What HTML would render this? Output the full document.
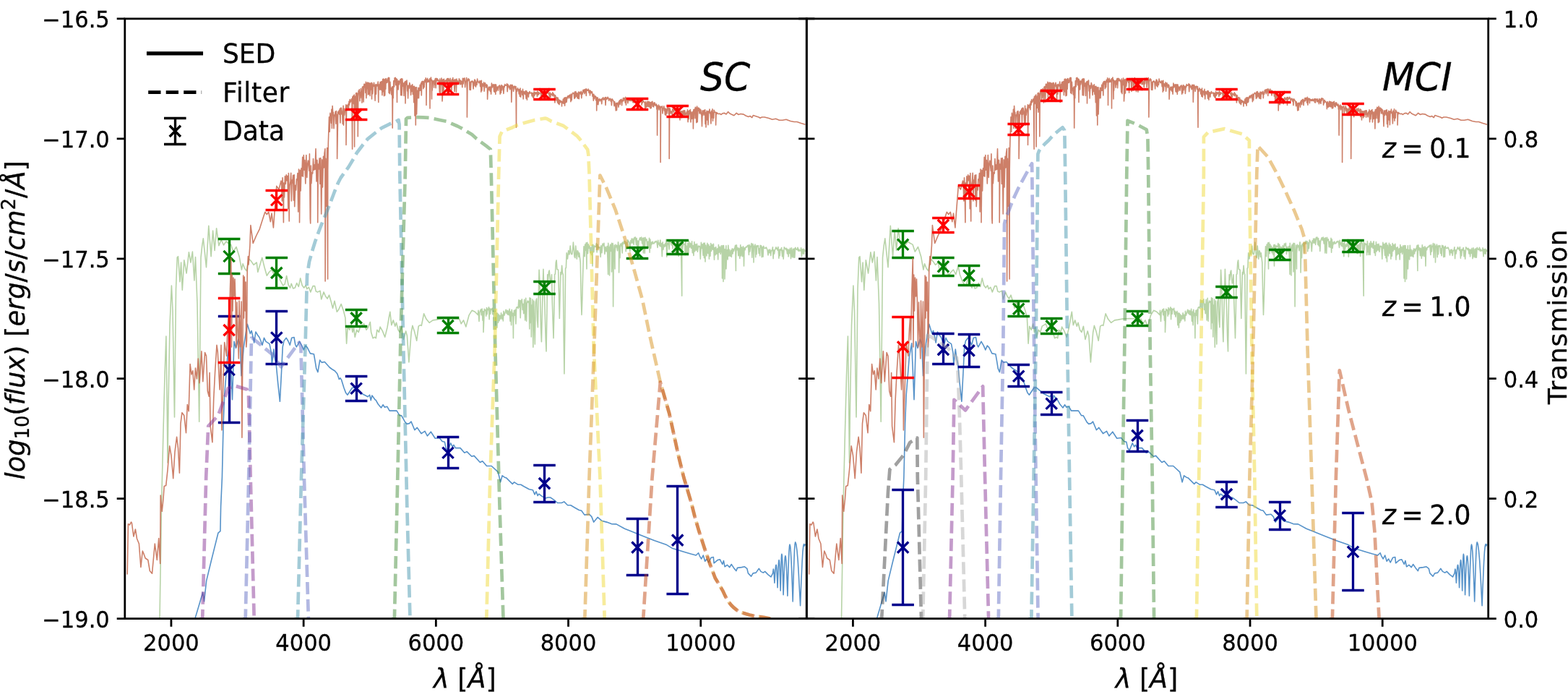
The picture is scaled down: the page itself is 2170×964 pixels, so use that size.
<!DOCTYPE html>
<html lang="en"><head><meta charset="utf-8"><title>SED and filter transmission: SC and MCI</title>
<style>html,body{margin:0;padding:0;background:#fff;overflow:hidden}svg{display:block}text{stroke:#000;stroke-width:0.3px;stroke-linejoin:round}</style></head>
<body><svg width="2170" height="964" viewBox="0 0 2170 964" font-family='"DejaVu Sans","Liberation Sans",sans-serif' style="font-variant-ligatures:none">
<rect width="2170" height="964" fill="#fff"/>
<defs><clipPath id="c0"><rect x="172.8" y="25.9" width="943.5" height="829.7"/></clipPath><clipPath id="c1"><rect x="1116.3" y="25.9" width="943.3999999999999" height="829.7"/></clipPath></defs>
<g clip-path="url(#c0)">
<path d="M269.5 857.0 L280.7 819.3 L282.5 831.8 L285.7 803.1 L292.0 777.0 L301.9 737.2 L304.9 734.7 L305.6 700.0 L307.4 660.0 L309.1 586.0 L310.7 546.2 L314.9 493.1 L318.2 474.8 L321.5 552.8 L324.0 472.3 L326.5 481.5 L329.8 469.0 L332.3 476.5 L334.0 519.6 L337.3 479.8 L339.8 463.2 L342.3 448.3 L344.8 456.6 L346.4 461.5 L348.1 457.4 L350.6 468.2 L351.7 474.0 L353.9 459.0 L356.4 463.2 L358.9 466.5 L362.2 474.8 L363.0 477.3 L365.5 467.3 L368.0 472.3 L373.0 475.6 L375.5 488.1 L376.3 504.7 L378.8 483.1 L380.5 496.4 L382.1 503.0 L384.6 529.6 L387.4 555.3 L389.6 513.0 L391.2 479.8 L392.9 471.5 L396.2 467.3 L398.7 471.5 L401.2 477.3 L403.7 467.3 L407.0 466.5 L408.7 476.5 L410.3 479.8 L414.5 472.3 L417.8 478.1 L420.3 483.9 L422.8 478.1 L425.3 480.6 L429.4 488.9 L434.4 489.8 L436.1 499.7 L437.7 509.7 L439.9 514.6 L442.7 498.0 L445.2 501.4 L449.3 500.5 L456.0 508.0 L459.3 510.5 L463.4 513.0 L466.8 517.1 L469.3 524.6 L470.9 522.9 L472.6 525.4 L475.9 536.2 L478.4 542.9 L480.9 546.2 L484.2 541.2 L487.5 536.2 L490.8 536.2 L495.8 540.4 L500.8 544.5 L505.8 547.0 L509.1 548.7 L511.6 546.2 L513.2 553.7 L514.9 547.0 L519.0 552.8 L520.0 553.2 L523.3 559.0 L527.5 564.0 L530.0 559.8 L532.4 563.2 L535.8 562.3 L539.1 568.1 L544.9 568.1 L549.0 568.1 L553.2 574.8 L555.7 574.8 L560.7 583.9 L563.2 586.4 L566.5 585.6 L569.0 583.1 L573.9 594.7 L577.3 591.4 L583.1 599.7 L588.0 596.3 L591.4 603.0 L596.3 597.2 L602.2 606.3 L608.0 605.5 L612.1 610.5 L615.4 611.3 L617.1 619.6 L619.6 622.9 L623.7 612.9 L626.2 617.9 L627.9 615.4 L630.4 619.6 L637.0 619.6 L642.8 626.2 L646.1 624.6 L652.8 631.2 L656.1 630.4 L664.4 639.5 L667.7 637.8 L673.5 644.5 L680.2 644.5 L689.3 652.8 L692.6 666.9 L695.1 657.8 L698.4 660.2 L700.9 661.1 L709.2 669.4 L711.7 666.9 L716.7 670.2 L720.8 670.2 L725.0 672.7 L732.4 676.8 L737.4 677.7 L740.0 683.9 L742.0 679.8 L744.1 685.6 L745.8 683.1 L750.0 686.4 L754.9 688.9 L758.3 688.0 L761.6 688.0 L766.6 691.4 L771.5 695.5 L777.3 695.5 L780.7 693.9 L785.6 698.8 L789.8 698.8 L795.6 702.2 L801.4 705.5 L804.7 706.3 L808.9 712.1 L815.5 711.3 L818.8 714.6 L821.7 722.1 L827.1 715.4 L832.9 720.4 L839.6 722.1 L846.2 724.6 L852.9 724.9 L864.5 731.2 L872.8 734.5 L889.4 741.2 L906.0 747.8 L922.6 753.6 L930.9 758.6 L939.2 761.1 L955.8 766.1 L963.2 768.0 L966.6 764.7 L968.2 768.8 L970.7 773.0 L973.2 768.0 L975.7 776.3 L978.2 773.0 L980.7 778.0 L984.0 771.3 L987.3 770.5 L988.1 778.8 L993.1 774.6 L996.4 773.8 L999.8 780.5 L1001.4 775.5 L1003.1 783.8 L1006.4 781.3 L1009.7 784.6 L1012.2 780.5 L1015.5 785.4 L1018.8 789.6 L1020.5 785.4 L1026.3 784.6 L1030.5 783.8 L1033.8 786.3 L1035.4 792.9 L1039.6 797.1 L1042.1 792.9 L1046.2 792.1 L1050.4 786.3 L1052.9 790.4 L1056.2 792.1 L1058.7 790.4 L1062.8 794.6 L1067.0 797.9 L1069.5 792.9 L1070.3 787.1 L1070.6 787.8 L1070.8 789.7 L1071.1 792.7 L1071.4 796.6 L1071.6 801.3 L1071.9 806.2 L1072.3 799.8 L1072.6 793.8 L1073.0 788.6 L1073.4 784.6 L1073.7 782.1 L1074.1 781.3 L1074.4 782.4 L1074.8 785.5 L1075.1 790.5 L1075.4 797.0 L1075.8 804.6 L1076.1 812.8 L1076.4 802.9 L1076.8 793.7 L1077.1 785.8 L1077.4 779.7 L1077.8 775.9 L1078.1 774.6 L1078.4 776.0 L1078.8 780.3 L1079.2 787.0 L1079.5 795.8 L1079.8 806.0 L1080.2 817.0 L1080.5 803.9 L1080.8 791.6 L1081.1 781.1 L1081.3 773.1 L1081.6 768.0 L1081.9 766.3 L1082.3 768.2 L1082.6 773.9 L1083.0 782.8 L1083.4 794.5 L1083.7 808.2 L1084.1 822.8 L1084.6 808.8 L1085.0 795.8 L1085.5 784.6 L1086.0 776.0 L1086.4 770.6 L1086.9 768.8 L1087.4 770.7 L1087.9 776.2 L1088.4 785.0 L1088.9 796.4 L1089.4 809.8 L1089.9 824.1 L1090.4 805.7 L1090.9 788.6 L1091.5 773.9 L1092.0 762.6 L1092.5 755.5 L1093.0 753.1 L1093.7 755.8 L1094.4 763.7 L1095.1 776.2 L1095.8 792.5 L1096.5 811.5 L1097.2 831.9 L1097.8 810.7 L1098.4 790.9 L1099.0 773.8 L1099.5 760.8 L1100.1 752.6 L1100.7 749.8 L1101.8 752.8 L1103.0 761.6 L1104.2 775.5 L1105.3 793.8 L1106.4 814.9 L1107.6 837.7 L1108.4 815.6 L1109.3 795.0 L1110.1 777.2 L1110.9 763.7 L1111.8 755.1 L1112.6 752.5 L1113.3 755.0 L1114.5 752.5" fill="none" stroke="#3f83c2" stroke-opacity="0.88" stroke-width="1.6" stroke-linejoin="round"/>
<path d="M309.46 503.86l15.28 15.28M309.46 519.14l15.28 -15.28" stroke="#00008b" stroke-width="3.33" fill="none"/>
<path d="M301.82 437.5h30.56M301.82 584.5h30.56" stroke="#00008b" stroke-width="3.33" fill="none"/>
<path d="M317.5 437.9V584.5" stroke="#00008b" stroke-width="3.33" fill="none"/>
<path d="M375.16 459.36l15.28 15.28M375.16 474.64l15.28 -15.28" stroke="#00008b" stroke-width="3.33" fill="none"/>
<path d="M367.52 430.5h30.56M367.52 503.5h30.56" stroke="#00008b" stroke-width="3.33" fill="none"/>
<path d="M382.5 430.4V503.6" stroke="#00008b" stroke-width="3.33" fill="none"/>
<path d="M485.46 529.56l15.28 15.28M485.46 544.84l15.28 -15.28" stroke="#00008b" stroke-width="3.33" fill="none"/>
<path d="M477.82 520.5h30.56M477.82 554.5h30.56" stroke="#00008b" stroke-width="3.33" fill="none"/>
<path d="M493.5 520.2V554.1" stroke="#00008b" stroke-width="3.33" fill="none"/>
<path d="M612.36 618.66l15.28 15.28M612.36 633.94l15.28 -15.28" stroke="#00008b" stroke-width="3.33" fill="none"/>
<path d="M604.72 604.5h30.56M604.72 647.5h30.56" stroke="#00008b" stroke-width="3.33" fill="none"/>
<path d="M620.5 604.4V647.2" stroke="#00008b" stroke-width="3.33" fill="none"/>
<path d="M745.86 660.96l15.28 15.28M745.86 676.24l15.28 -15.28" stroke="#00008b" stroke-width="3.33" fill="none"/>
<path d="M738.22 643.5h30.56M738.22 694.5h30.56" stroke="#00008b" stroke-width="3.33" fill="none"/>
<path d="M753.5 643.5V694.0" stroke="#00008b" stroke-width="3.33" fill="none"/>
<path d="M874.36 749.46l15.28 15.28M874.36 764.74l15.28 -15.28" stroke="#00008b" stroke-width="3.33" fill="none"/>
<path d="M866.72 717.5h30.56M866.72 795.5h30.56" stroke="#00008b" stroke-width="3.33" fill="none"/>
<path d="M882.5 717.8V795.7" stroke="#00008b" stroke-width="3.33" fill="none"/>
<path d="M930.06 739.46l15.28 15.28M930.06 754.74l15.28 -15.28" stroke="#00008b" stroke-width="3.33" fill="none"/>
<path d="M922.42 672.5h30.56M922.42 821.5h30.56" stroke="#00008b" stroke-width="3.33" fill="none"/>
<path d="M937.5 672.4V821.0" stroke="#00008b" stroke-width="3.33" fill="none"/>
<path d="M221.0 857.0 L222.2 780.0 L223.5 700.0 L225.9 600.0 L228.0 520.0 L229.9 465.0 L231.2 560.0 L232.0 640.0 L233.0 560.0 L235.0 450.0 L237.4 395.0 L239.0 430.0 L241.5 577.0 L243.5 400.0 L245.2 356.0 L246.5 354.7 L249.0 389.6 L250.6 363.0 L252.3 401.2 L254.8 359.7 L258.1 378.0 L261.4 348.9 L263.9 363.0 L266.4 348.1 L268.9 387.9 L270.5 355.6 L273.0 420.0 L275.7 583.2 L278.0 356.4 L279.7 339.8 L281.3 329.8 L285.5 369.7 L288.8 312.4 L292.1 354.7 L294.6 319.0 L297.1 346.4 L299.6 315.7 L302.9 339.8 L306.2 331.5 L309.5 339.0 L312.9 334.0 L316.2 336.5 L319.5 338.1 L322.8 348.1 L327.0 341.5 L331.1 354.7 L334.4 373.0 L336.1 364.7 L338.6 371.3 L341.1 374.6 L344.4 358.0 L347.7 361.4 L351.0 366.3 L355.2 363.0 L356.8 376.3 L359.3 368.0 L362.7 356.4 L366.0 369.7 L369.3 381.3 L372.6 376.3 L375.9 373.0 L379.3 379.6 L382.6 368.0 L385.0 380.0 L388.0 388.0 L391.6 394.8 L394.1 393.2 L396.6 381.5 L399.1 394.0 L401.6 398.1 L403.2 392.3 L405.7 399.0 L408.2 398.1 L410.7 391.5 L413.2 396.5 L415.7 384.9 L418.2 394.8 L420.7 398.1 L423.2 394.8 L424.8 399.8 L427.3 397.3 L429.8 403.9 L433.1 395.6 L435.6 395.6 L437.3 403.1 L439.8 403.9 L443.1 402.3 L444.7 413.9 L448.0 403.9 L450.5 409.8 L453.0 413.1 L455.5 408.1 L458.0 416.4 L460.5 426.3 L463.0 416.4 L466.3 431.3 L468.8 428.0 L472.1 420.5 L475.4 429.7 L477.9 439.6 L479.6 475.3 L481.2 451.2 L483.7 456.2 L486.2 447.9 L487.9 459.5 L489.5 452.9 L491.2 466.2 L493.7 456.2 L496.2 459.5 L498.7 451.2 L501.2 449.6 L503.7 447.9 L507.0 456.2 L509.5 452.9 L512.3 445.4 L513.6 459.5 L516.1 467.8 L518.6 466.2 L520.2 467.8 L521.9 456.2 L524.4 459.5 L526.1 452.1 L529.4 457.9 L532.7 466.2 L536.0 452.9 L538.5 438.0 L539.8 431.3 L541.8 449.6 L544.3 442.9 L546.8 451.2 L548.5 446.3 L551.0 456.2 L553.4 459.5 L555.9 451.2 L558.4 469.5 L561.7 457.9 L563.4 464.5 L565.9 501.0 L569.2 459.5 L570.9 450.4 L573.4 457.9 L576.7 471.2 L579.2 451.2 L581.7 449.6 L583.3 450.4 L586.6 433.8 L590.0 441.3 L594.1 446.3 L599.1 442.9 L604.1 442.1 L610.0 441.0 L620.0 440.5 L628.0 441.0 L635.7 441.2 L638.2 447.8 L641.5 442.9 L644.8 452.0 L649.0 436.2 L653.1 429.3 L657.3 431.2 L661.4 435.4 L662.0 429.4 L663.0 444.5 L663.7 432.5 L664.5 430.2 L665.6 427.9 L666.3 435.7 L667.1 427.0 L668.0 443.3 L668.8 430.6 L669.0 459.5 L669.7 442.8 L670.3 427.2 L671.1 429.4 L672.1 428.6 L672.7 437.2 L673.5 425.6 L674.1 434.6 L674.7 427.4 L675.5 428.6 L676.5 424.8 L677.1 441.7 L677.8 426.6 L678.6 434.3 L679.4 427.4 L680.2 428.4 L681.2 426.3 L681.8 434.8 L682.7 430.2 L683.5 438.1 L684.2 431.7 L684.9 432.7 L685.5 430.4 L686.4 449.8 L687.3 432.9 L687.9 453.2 L688.7 433.4 L689.5 446.2 L690.3 435.0 L691.0 443.7 L691.8 436.6 L692.6 441.1 L693.6 432.8 L694.6 441.2 L695.5 435.2 L696.3 444.0 L697.0 430.3 L697.9 436.1 L698.5 434.0 L699.4 431.4 L700.2 428.2 L701.2 433.7 L702.2 429.4 L702.8 435.2 L703.8 430.1 L704.4 435.6 L705.1 427.3 L706.0 444.3 L706.6 431.0 L707.6 449.7 L708.2 428.2 L709.2 436.7 L709.9 433.4 L710.4 467.8 L710.6 446.1 L711.5 429.2 L712.2 436.3 L713.2 428.4 L713.9 447.9 L714.6 425.8 L715.4 424.6 L716.1 424.7 L717.1 426.7 L717.9 414.7 L718.7 425.0 L719.5 415.5 L720.2 439.8 L721.1 415.6 L721.7 417.8 L722.3 413.8 L723.2 428.5 L723.8 420.3 L724.7 433.8 L725.7 414.2 L726.7 442.9 L727.7 412.2 L728.6 444.3 L729.2 419.8 L730.2 416.1 L731.1 418.3 L732.0 416.7 L732.8 455.0 L733.0 411.8 L733.6 446.7 L734.4 412.6 L735.2 435.6 L735.3 466.0 L735.9 422.1 L736.8 427.9 L737.0 414.0 L737.8 480.2 L738.8 416.0 L739.6 452.0 L740.3 476.1 L741.3 418.0 L742.7 413.0 L743.5 442.1 L744.4 452.8 L745.2 410.8 L746.1 373.2 L746.9 389.2 L747.7 413.0 L748.5 452.6 L749.4 472.7 L750.2 437.6 L751.1 403.3 L751.9 372.3 L752.7 395.9 L753.5 409.7 L754.3 435.8 L755.2 468.8 L756.0 486.0 L756.9 431.9 L757.7 379.8 L758.5 387.1 L759.4 376.2 L760.2 374.0 L761.8 392.0 L762.6 390.1 L763.5 379.8 L764.3 418.0 L765.2 443.9 L766.0 467.8 L766.8 432.5 L767.6 379.8 L768.4 378.9 L769.3 363.0 L770.1 359.9 L770.9 372.5 L771.8 372.8 L772.6 373.2 L773.5 406.9 L774.3 440.4 L775.1 406.9 L775.9 376.5 L776.8 379.6 L777.6 367.3 L778.5 377.5 L779.3 379.8 L780.1 457.3 L780.9 517.0 L781.8 450.9 L782.6 371.5 L783.4 370.0 L784.2 349.9 L785.5 358.0 L786.7 346.6 L788.0 352.0 L789.2 340.0 L790.0 349.5 L790.9 351.6 L791.7 351.6 L792.6 344.9 L793.4 335.0 L794.2 344.4 L795.0 354.9 L795.9 356.6 L796.7 340.0 L798.3 358.2 L799.2 346.6 L800.0 347.9 L800.9 355.5 L801.7 349.9 L803.3 363.2 L804.1 408.5 L805.0 435.4 L805.8 412.9 L806.7 378.4 L807.5 353.2 L808.0 340.8 L809.1 354.6 L809.7 338.1 L810.5 346.2 L811.2 335.7 L812.0 372.0 L812.0 340.5 L812.8 335.3 L813.5 350.6 L814.3 337.9 L815.3 343.3 L815.9 340.3 L816.8 349.8 L817.7 342.3 L818.5 352.4 L819.3 338.9 L820.0 368.0 L820.2 343.0 L820.8 338.3 L821.8 348.8 L822.6 339.8 L823.3 341.1 L824.1 341.5 L824.7 340.3 L825.4 336.6 L826.1 348.9 L827.1 338.0 L827.9 343.4 L828.7 341.6 L829.6 343.0 L830.2 341.8 L831.2 355.5 L831.9 339.6 L832.9 349.6 L834.0 337.1 L835.1 339.7 L835.9 336.4 L836.9 351.5 L838.0 341.3 L839.1 347.8 L840.2 340.5 L841.0 358.6 L841.6 379.4 L841.7 336.4 L842.4 346.0 L843.1 342.1 L843.5 381.0 L844.2 341.0 L844.8 338.2 L845.5 347.4 L846.5 336.3 L846.5 376.0 L847.3 356.2 L848.1 336.6 L848.6 424.0 L849.2 353.7 L850.2 339.0 L851.0 372.0 L851.0 350.5 L852.1 338.4 L852.8 341.6 L853.6 339.5 L854.5 346.8 L855.5 334.7 L856.4 342.0 L856.6 377.0 L857.3 339.8 L858.0 356.8 L858.6 337.2 L859.5 339.9 L860.4 336.2 L861.2 350.0 L861.8 335.0 L862.8 337.4 L863.8 333.3 L864.8 337.1 L865.6 333.9 L866.2 347.7 L867.1 335.5 L867.9 343.6 L868.8 331.9 L869.9 334.0 L870.9 335.8 L871.8 347.7 L872.7 332.7 L873.4 336.5 L874.2 330.0 L875.3 336.2 L876.1 330.0 L877.1 338.4 L878.0 328.3 L878.7 330.8 L879.4 328.0 L880.4 338.5 L881.1 329.5 L881.8 340.1 L882.6 333.1 L883.3 347.5 L884.0 334.6 L884.9 330.8 L885.9 328.7 L886.7 332.2 L887.7 328.0 L888.7 337.0 L889.7 329.2 L890.3 350.0 L891.2 328.7 L892.3 350.1 L893.0 328.4 L893.9 332.8 L894.9 330.9 L895.8 341.6 L896.8 334.1 L897.7 342.3 L898.5 329.2 L899.1 349.3 L899.8 331.0 L900.6 343.3 L901.5 335.0 L902.3 337.7 L903.2 334.1 L904.3 337.0 L905.3 336.8 L906.4 334.1 L907.2 335.0 L908.2 333.3 L909.0 334.7 L910.0 342.5 L910.7 332.3 L911.3 338.0 L912.1 336.1 L913.0 340.3 L913.8 332.1 L914.7 341.2 L915.4 336.5 L916.3 354.7 L917.1 334.7 L917.9 345.1 L919.0 338.3 L919.9 341.1 L920.6 336.9 L921.4 340.1 L922.0 331.3 L922.8 355.2 L923.8 335.8 L924.7 338.1 L925.4 334.9 L926.0 345.0 L926.9 334.4 L927.5 335.0 L928.3 331.9 L929.3 339.0 L930.2 336.4 L931.1 343.9 L931.8 333.2 L932.9 338.4 L933.6 334.3 L934.5 350.6 L935.2 338.8 L935.8 350.7 L936.7 338.2 L937.4 348.1 L938.5 336.0 L939.1 354.5 L940.2 332.3 L941.2 335.8 L941.9 337.5 L942.8 355.9 L943.7 409.3 L943.8 335.1 L944.5 345.7 L945.6 336.4 L946.6 338.1 L947.6 337.4 L948.2 352.6 L948.9 333.6 L949.5 348.5 L950.2 340.2 L950.8 352.5 L951.8 336.4 L952.7 352.4 L953.6 333.7 L954.6 341.9 L955.5 336.3 L956.5 343.3 L957.6 333.9 L958.3 349.6 L959.2 339.6 L959.9 353.4 L960.9 334.5 L961.6 347.8 L962.7 337.9 L963.5 346.1 L964.5 337.3 L965.4 348.3 L966.5 340.0 L967.5 341.4 L968.4 340.4 L969.3 358.2 L970.4 335.4 L971.3 343.5 L972.0 337.8 L973.1 353.3 L973.7 336.3 L974.5 356.6 L975.3 336.0 L976.0 362.0 L976.2 341.8 L976.8 339.0 L977.9 353.9 L978.9 336.3 L979.8 350.5 L980.7 338.2 L981.4 358.2 L982.1 340.8 L982.9 354.3 L983.7 336.6 L984.5 347.2 L985.5 338.4 L986.4 345.1 L987.4 337.3 L988.5 359.1 L989.1 342.6 L990.1 352.6 L990.7 341.6 L991.7 351.1 L992.8 343.9 L993.7 359.0 L994.4 338.6 L995.2 349.1 L996.3 341.3 L997.2 351.5 L998.3 339.7 L999.3 351.2 L999.5 385.0 L1000.1 339.5 L1000.7 341.1 L1001.0 389.4 L1001.5 339.5 L1002.1 348.9 L1002.9 344.7 L1003.0 386.0 L1003.9 353.2 L1004.9 339.7 L1005.0 372.0 L1005.6 352.0 L1006.3 345.6 L1007.1 359.0 L1007.8 339.2 L1008.8 354.2 L1009.5 345.4 L1010.6 354.3 L1011.7 346.1 L1012.3 355.4 L1013.3 343.8 L1014.1 350.9 L1015.0 344.6 L1015.6 347.2 L1016.3 343.9 L1017.0 342.2 L1017.7 339.2 L1018.4 374.4 L1018.5 357.7 L1019.3 338.9 L1020.2 345.6 L1021.1 342.7 L1021.9 353.7 L1022.8 343.4 L1023.8 357.4 L1024.8 338.9 L1025.6 353.9 L1026.6 341.7 L1027.6 354.7 L1028.5 340.7 L1029.1 346.8 L1029.5 368.0 L1030.1 342.7 L1031.1 345.7 L1031.8 342.2 L1032.8 341.3 L1033.4 341.9 L1034.3 340.0 L1035.4 339.2 L1036.4 352.5 L1037.1 338.5 L1037.8 348.0 L1038.6 340.5 L1039.2 340.9 L1040.0 336.5 L1040.8 356.3 L1041.9 337.3 L1042.9 341.9 L1043.0 363.0 L1043.6 340.4 L1044.3 341.9 L1045.0 338.0 L1045.7 355.8 L1046.3 340.3 L1047.0 351.8 L1047.6 339.5 L1048.6 340.9 L1049.4 339.7 L1050.2 350.5 L1050.8 343.7 L1051.6 353.7 L1052.2 339.4 L1052.9 342.3 L1053.7 339.9 L1054.3 355.8 L1055.2 341.9 L1056.0 355.2 L1056.6 340.3 L1057.6 342.8 L1058.4 343.5 L1059.4 343.2 L1060.2 342.0 L1061.1 343.5 L1062.1 346.3 L1063.0 352.9 L1064.0 345.4 L1065.0 349.6 L1065.7 345.1 L1066.7 353.5 L1067.4 346.5 L1068.4 346.8 L1069.4 341.8 L1070.1 357.6 L1070.7 345.7 L1071.5 351.0 L1072.4 345.9 L1073.2 344.1 L1074.0 341.8 L1074.8 344.3 L1075.5 343.6 L1076.1 346.1 L1076.9 341.5 L1077.9 357.3 L1078.5 345.2 L1079.2 353.8 L1079.8 344.8 L1080.9 346.1 L1081.6 342.5 L1082.6 354.7 L1083.3 346.0 L1084.2 358.2 L1085.3 341.8 L1086.3 343.7 L1087.0 343.6 L1087.7 345.6 L1088.5 343.2 L1089.5 351.0 L1090.4 344.7 L1091.1 355.0 L1092.1 345.4 L1092.9 350.3 L1093.5 343.2 L1094.5 357.7 L1095.5 342.7 L1096.5 355.8 L1097.6 344.5 L1098.4 356.1 L1099.0 343.9 L1099.8 356.2 L1100.7 342.2 L1101.4 343.9 L1102.4 345.2 L1103.1 345.7 L1104.0 342.2 L1104.9 347.2 L1105.6 344.7 L1106.4 347.1 L1107.2 346.4 L1107.9 346.8 L1108.6 342.8 L1109.5 354.8 L1110.2 344.9 L1111.0 350.6 L1111.8 344.2 L1112.5 351.3 L1113.3 345.3 L1114.2 348.1" fill="none" stroke="#9bc285" stroke-opacity="0.72" stroke-width="1.6" stroke-linejoin="round"/>
<path d="M309.46 346.86l15.28 15.28M309.46 362.14l15.28 -15.28" stroke="#008000" stroke-width="3.33" fill="none"/>
<path d="M301.82 330.5h30.56M301.82 378.5h30.56" stroke="#008000" stroke-width="3.33" fill="none"/>
<path d="M317.5 330.9V378.2" stroke="#008000" stroke-width="3.33" fill="none"/>
<path d="M375.16 369.76l15.28 15.28M375.16 385.04l15.28 -15.28" stroke="#008000" stroke-width="3.33" fill="none"/>
<path d="M367.52 356.5h30.56M367.52 398.5h30.56" stroke="#008000" stroke-width="3.33" fill="none"/>
<path d="M382.5 356.0V398.8" stroke="#008000" stroke-width="3.33" fill="none"/>
<path d="M485.46 432.26l15.28 15.28M485.46 447.54l15.28 -15.28" stroke="#008000" stroke-width="3.33" fill="none"/>
<path d="M477.82 428.5h30.56M477.82 451.5h30.56" stroke="#008000" stroke-width="3.33" fill="none"/>
<path d="M493.5 428.4V451.6" stroke="#008000" stroke-width="3.33" fill="none"/>
<path d="M612.36 442.76l15.28 15.28M612.36 458.04l15.28 -15.28" stroke="#008000" stroke-width="3.33" fill="none"/>
<path d="M604.72 439.5h30.56M604.72 460.5h30.56" stroke="#008000" stroke-width="3.33" fill="none"/>
<path d="M620.5 439.9V460.6" stroke="#008000" stroke-width="3.33" fill="none"/>
<path d="M745.86 390.36l15.28 15.28M745.86 405.64l15.28 -15.28" stroke="#008000" stroke-width="3.33" fill="none"/>
<path d="M738.22 389.5h30.56M738.22 406.5h30.56" stroke="#008000" stroke-width="3.33" fill="none"/>
<path d="M753.5 389.9V406.0" stroke="#008000" stroke-width="3.33" fill="none"/>
<path d="M874.36 342.36l15.28 15.28M874.36 357.64l15.28 -15.28" stroke="#008000" stroke-width="3.33" fill="none"/>
<path d="M866.72 342.5h30.56M866.72 357.5h30.56" stroke="#008000" stroke-width="3.33" fill="none"/>
<path d="M882.5 342.0V357.7" stroke="#008000" stroke-width="3.33" fill="none"/>
<path d="M930.06 334.16l15.28 15.28M930.06 349.44l15.28 -15.28" stroke="#008000" stroke-width="3.33" fill="none"/>
<path d="M922.42 332.5h30.56M922.42 351.5h30.56" stroke="#008000" stroke-width="3.33" fill="none"/>
<path d="M937.5 332.6V351.0" stroke="#008000" stroke-width="3.33" fill="none"/>
<path d="M176.2 794.4 L177.4 724.7 L179.5 726.0 L181.5 722.0 L182.4 723.5 L184.9 742.0 L187.4 732.0 L189.5 745.0 L192.4 752.0 L194.9 784.5 L197.3 762.0 L199.0 766.0 L201.1 772.0 L204.8 774.5 L207.3 789.4 L210.5 793.2 L214.3 752.0 L217.3 774.5 L219.7 744.6 L221.7 779.5 L222.2 685.0 L224.2 707.3 L226.0 690.0 L227.2 672.4 L229.7 671.6 L232.0 650.0 L234.7 616.8 L237.0 630.0 L239.7 661.6 L242.0 625.0 L244.6 604.4 L246.5 620.0 L248.4 654.2 L250.0 585.6 L251.9 570.7 L254.7 574.4 L257.5 598.6 L259.3 559.5 L261.2 568.8 L263.1 503.5 L265.0 518.0 L266.8 512.8 L268.7 538.9 L270.5 509.0 L272.4 524.0 L274.3 496.0 L276.1 529.6 L278.9 485.7 L280.8 527.7 L283.6 487.6 L285.5 492.3 L287.3 540.8 L289.2 548.2 L290.1 515.6 L291.1 589.3 L293.9 611.7 L295.7 552.0 L297.6 514.7 L300.0 477.3 L301.3 486.7 L304.1 538.9 L306.0 477.3 L306.9 594.9 L308.8 533.3 L310.7 473.6 L313.5 492.3 L315.0 455.0 L316.0 440.0 L317.0 470.0 L318.5 400.0 L319.8 357.0 L320.5 480.0 L321.2 380.0 L322.0 430.0 L323.0 384.0 L324.0 410.0 L325.0 386.0 L326.0 420.0 L327.0 480.0 L328.0 418.0 L328.4 440.0 L329.5 470.0 L330.3 496.0 L331.0 416.0 L332.5 480.0 L334.0 417.0 L334.9 605.2 L336.7 381.0 L337.5 440.0 L338.3 383.0 L339.2 430.0 L340.0 390.0 L340.8 480.0 L341.5 470.8 L342.2 376.0 L343.4 354.5 L344.0 366.0 L345.9 340.0 L346.9 311.6 L350.2 336.5 L354.4 326.5 L359.3 316.6 L363.5 303.3 L366.8 293.3 L369.3 296.6 L371.8 293.3 L374.3 306.6 L376.0 295.0 L378.4 314.9 L380.0 293.3 L382.8 257.4 L386.0 262.0 L389.0 250.0 L389.5 251.7 L390.4 277.9 L391.0 245.9 L391.7 260.8 L392.4 307.8 L392.7 253.1 L393.5 272.9 L394.4 243.8 L395.2 254.5 L396.2 241.7 L397.1 249.8 L398.0 243.2 L398.8 288.7 L399.4 239.6 L400.2 306.0 L400.4 270.7 L401.0 256.8 L402.0 250.4 L402.7 239.2 L403.4 277.9 L404.1 249.0 L404.7 252.9 L405.6 242.3 L406.4 277.1 L407.2 241.7 L407.7 285.8 L408.8 256.2 L409.6 263.0 L410.4 247.8 L411.3 248.9 L411.9 239.6 L412.7 292.9 L413.5 234.1 L414.5 266.9 L414.5 307.8 L415.3 235.3 L416.1 263.9 L417.0 232.8 L417.8 243.5 L418.7 217.4 L419.4 244.3 L420.3 214.5 L421.1 235.2 L421.8 221.6 L422.8 254.0 L423.8 214.5 L424.8 245.4 L425.4 228.4 L426.4 222.1 L427.1 228.8 L427.9 236.3 L428.4 212.7 L429.3 302.1 L429.7 309.0 L430.3 229.0 L430.9 253.7 L431.8 238.8 L432.7 239.9 L433.5 219.6 L434.4 235.2 L435.4 227.7 L436.0 234.4 L437.0 205.7 L438.0 251.0 L438.9 221.4 L439.6 239.3 L439.7 307.8 L440.3 227.1 L441.1 233.9 L442.1 218.9 L442.8 254.5 L443.8 218.6 L444.7 295.9 L445.7 220.9 L446.5 258.9 L447.5 216.3 L448.3 231.9 L449.0 212.2 L449.9 205.9 L450.1 389.0 L450.8 219.2 L451.7 285.5 L452.7 204.5 L453.6 386.0 L453.7 234.9 L454.3 198.6 L455.5 161.7 L456.2 182.3 L456.9 156.4 L457.4 161.4 L457.9 159.2 L458.4 170.1 L458.9 151.3 L459.4 177.4 L460.1 146.6 L460.6 154.5 L461.3 155.6 L462.0 177.6 L462.7 159.0 L463.4 160.3 L464.2 154.3 L464.8 171.2 L465.4 153.5 L466.0 162.9 L466.5 158.6 L466.6 219.5 L467.2 185.0 L467.8 154.6 L468.5 156.9 L469.2 152.8 L469.7 158.2 L470.3 150.6 L470.9 169.9 L471.4 149.3 L472.0 158.1 L472.5 149.3 L473.1 153.6 L473.7 157.2 L474.3 171.5 L475.1 146.3 L475.5 173.2 L476.2 150.3 L476.7 159.1 L477.5 152.4 L478.2 151.7 L478.9 144.8 L479.0 200.4 L479.6 148.6 L480.3 145.7 L481.0 148.9 L481.7 144.1 L482.3 151.6 L483.0 140.3 L483.5 145.1 L484.2 137.5 L484.7 141.7 L485.3 140.0 L485.9 139.8 L486.5 136.7 L487.0 138.2 L487.6 206.2 L487.8 134.0 L488.3 142.5 L488.9 132.6 L489.5 143.8 L490.2 131.1 L490.6 203.0 L490.8 145.9 L491.5 133.2 L492.1 149.3 L492.7 128.7 L493.3 155.2 L493.9 128.4 L494.6 151.5 L495.1 129.9 L495.3 188.8 L495.7 133.6 L496.2 125.5 L496.7 128.1 L497.3 123.7 L498.0 139.8 L498.4 128.1 L498.9 135.5 L499.5 122.6 L500.0 132.8 L500.5 126.6 L501.0 142.1 L501.5 120.2 L502.0 121.9 L502.5 119.5 L503.1 140.9 L503.9 116.2 L504.5 120.8 L505.2 116.2 L505.9 128.5 L506.4 113.3 L506.9 135.7 L507.4 115.1 L507.9 122.5 L508.6 114.0 L509.3 130.9 L510.0 114.3 L510.7 130.2 L511.4 115.1 L511.9 132.4 L512.6 115.3 L513.3 124.0 L514.0 114.3 L514.5 137.0 L515.0 115.0 L515.7 129.6 L516.2 117.2 L516.9 119.3 L517.5 114.3 L518.1 118.0 L518.5 121.3 L519.1 139.2 L519.7 117.1 L520.4 130.2 L520.9 116.6 L521.5 118.4 L522.0 119.0 L522.6 118.3 L523.2 113.1 L523.8 141.5 L523.9 124.3 L524.3 117.5 L524.8 119.0 L525.2 116.3 L525.7 124.1 L526.1 113.6 L526.8 123.8 L527.4 113.1 L528.0 124.8 L528.4 112.6 L528.9 131.6 L529.7 109.6 L530.2 126.6 L530.8 109.0 L531.5 132.7 L532.0 110.0 L532.7 132.0 L533.2 109.2 L533.7 123.1 L534.2 108.5 L534.8 110.6 L535.3 114.5 L536.0 114.1 L536.7 108.2 L537.2 109.9 L537.7 107.3 L538.2 128.4 L538.7 107.5 L539.4 129.6 L539.9 113.2 L540.4 124.8 L541.1 121.7 L541.8 130.9 L542.5 120.0 L543.0 140.8 L543.2 177.1 L543.7 119.8 L544.2 135.8 L544.8 111.8 L545.6 119.9 L546.1 107.8 L546.6 112.5 L547.3 107.3 L547.8 117.8 L548.4 108.9 L549.1 114.2 L549.5 141.5 L549.6 109.6 L550.1 113.8 L550.6 112.4 L551.1 124.0 L551.6 111.9 L552.2 116.9 L553.0 112.3 L553.6 111.8 L554.2 109.5 L554.7 131.8 L555.5 108.8 L556.1 132.0 L556.8 109.1 L557.5 119.3 L558.3 115.3 L559.0 132.4 L559.4 114.7 L560.0 114.1 L560.5 112.9 L560.9 120.4 L561.0 143.0 L561.6 112.3 L562.2 117.3 L563.0 111.0 L563.7 126.0 L564.1 118.4 L564.6 135.9 L565.4 118.4 L566.1 122.1 L566.7 114.6 L567.4 116.9 L567.9 121.0 L568.6 131.4 L569.4 118.1 L570.1 126.4 L570.8 116.7 L571.4 130.5 L572.1 119.6 L572.8 141.7 L573.4 119.2 L573.8 139.4 L574.0 160.0 L574.4 121.0 L575.0 123.9 L575.3 173.0 L575.5 120.8 L576.0 140.7 L576.5 120.8 L576.6 158.0 L577.2 134.0 L577.7 125.4 L578.3 135.6 L579.0 121.4 L579.5 135.8 L580.2 121.7 L580.7 125.4 L581.3 117.2 L582.0 125.2 L582.7 114.7 L583.3 132.0 L583.8 112.8 L584.4 116.1 L585.2 112.2 L585.9 122.6 L586.4 112.8 L587.1 120.6 L587.7 110.6 L588.5 113.4 L589.2 107.8 L589.8 110.8 L590.0 145.5 L590.3 110.1 L591.0 113.6 L591.6 108.2 L592.2 113.4 L592.7 110.5 L593.4 113.3 L594.1 112.6 L594.7 108.8 L595.0 150.0 L595.2 112.1 L595.7 111.7 L596.4 107.1 L597.1 112.9 L597.5 137.0 L597.7 110.6 L598.1 125.1 L598.7 112.7 L599.4 111.8 L600.1 113.4 L600.6 121.2 L601.1 111.0 L601.8 116.6 L602.4 108.5 L603.1 121.8 L603.9 108.3 L604.6 111.7 L605.2 108.9 L605.9 111.9 L606.5 110.3 L607.1 111.3 L607.7 114.5 L608.3 127.8 L608.8 109.0 L609.4 129.6 L610.1 111.3 L610.5 117.6 L611.0 108.1 L611.5 113.7 L612.0 110.4 L612.0 140.0 L612.7 128.1 L613.4 109.7 L613.9 128.9 L614.5 109.2 L615.2 119.4 L616.0 111.6 L616.7 112.1 L617.5 110.4 L618.2 114.3 L618.7 108.8 L619.1 128.2 L619.6 108.5 L620.3 112.6 L620.7 108.5 L621.3 110.3 L621.9 111.0 L622.5 126.4 L623.1 108.3 L623.9 112.9 L624.6 112.2 L625.0 125.0 L625.6 109.8 L626.3 116.6 L626.8 107.6 L627.6 116.5 L628.2 110.6 L629.0 126.6 L629.8 109.6 L630.5 113.7 L631.0 110.5 L631.4 127.2 L632.0 109.0 L632.5 113.9 L633.1 111.7 L633.5 114.2 L634.0 113.0 L634.6 115.9 L635.4 108.7 L635.9 115.0 L636.4 110.8 L636.9 116.9 L637.6 111.2 L638.3 116.3 L639.0 112.6 L639.8 120.7 L640.4 108.4 L641.1 116.0 L641.8 108.5 L642.3 109.5 L643.0 107.9 L643.6 120.7 L644.3 112.5 L645.0 112.2 L645.7 107.5 L646.3 125.1 L646.4 162.1 L647.0 110.2 L647.8 111.8 L648.2 108.7 L649.0 110.4 L649.5 110.0 L650.0 124.3 L650.0 113.4 L650.4 121.5 L650.9 113.6 L651.3 124.5 L652.0 112.7 L652.8 113.1 L653.3 111.7 L653.8 113.5 L654.3 112.8 L655.1 122.9 L655.6 113.5 L656.2 113.2 L656.8 110.1 L657.2 118.6 L657.8 111.1 L658.5 120.1 L659.1 113.2 L659.9 117.4 L660.6 109.0 L661.1 112.8 L661.8 112.4 L662.5 114.8 L663.1 114.2 L663.6 113.0 L664.0 111.7 L664.7 119.7 L665.3 112.3 L665.8 127.3 L666.3 111.4 L666.9 125.2 L667.4 115.7 L667.9 118.8 L668.4 116.0 L669.1 119.6 L669.6 113.7 L670.1 126.3 L670.9 115.6 L671.4 114.8 L672.1 117.5 L672.6 121.1 L673.2 118.4 L673.6 116.9 L674.4 118.4 L674.6 137.2 L674.9 130.4 L675.6 122.0 L676.1 122.5 L676.5 120.3 L677.2 124.8 L677.7 120.3 L678.4 126.5 L678.9 120.1 L679.6 130.1 L680.4 115.1 L681.0 121.0 L681.6 117.3 L682.1 120.0 L682.8 116.8 L683.6 126.8 L684.1 117.1 L684.8 127.4 L685.3 116.7 L685.8 130.4 L686.5 117.1 L687.2 126.0 L687.7 121.4 L688.2 120.1 L688.7 120.6 L689.4 125.1 L690.1 119.1 L690.8 119.7 L691.5 117.9 L692.2 130.3 L692.8 119.4 L693.4 128.5 L694.0 117.6 L694.6 124.6 L695.1 118.6 L695.7 119.7 L696.3 119.7 L696.9 129.4 L697.7 118.7 L698.2 120.4 L698.7 116.6 L699.5 118.0 L700.2 118.3 L700.9 117.9 L701.6 115.7 L702.2 126.7 L702.9 116.8 L703.7 118.9 L704.1 118.9 L704.6 121.4 L705.1 119.3 L705.7 123.8 L706.3 117.4 L706.9 122.7 L707.5 117.6 L707.8 141.3 L708.1 129.8 L708.9 117.3 L709.6 118.8 L710.2 120.8 L710.6 126.5 L711.4 119.6 L712.0 119.6 L712.6 119.2 L713.3 123.6 L714.0 119.7 L714.5 176.2 L714.7 129.4 L715.1 123.2 L715.7 126.1 L716.5 121.9 L717.1 123.8 L717.6 123.5 L718.2 129.9 L718.9 123.7 L719.4 133.3 L720.0 122.1 L720.7 134.3 L721.2 125.7 L721.8 126.3 L722.5 126.3 L722.9 131.5 L723.5 123.3 L724.2 136.9 L724.9 126.5 L725.4 129.4 L726.1 127.1 L726.7 130.4 L727.4 125.6 L728.1 136.2 L728.8 125.9 L729.4 138.3 L729.9 127.7 L730.4 128.2 L730.9 128.1 L731.4 134.3 L731.8 128.3 L732.5 129.5 L733.0 126.5 L733.6 128.8 L734.1 128.8 L734.9 128.6 L735.5 128.1 L736.2 132.8 L736.8 128.6 L737.5 134.7 L738.2 128.8 L738.6 135.4 L739.1 126.8 L739.7 132.3 L740.3 127.7 L740.8 130.4 L741.5 129.4 L742.1 127.5 L742.8 129.1 L743.5 133.5 L744.1 126.1 L744.8 131.2 L745.3 127.8 L745.7 130.6 L746.4 128.6 L746.9 128.8 L747.5 128.7 L747.9 128.3 L748.5 129.4 L749.2 137.6 L749.6 127.3 L750.1 132.7 L750.8 127.2 L751.5 133.8 L752.1 126.9 L752.6 134.3 L753.4 129.4 L754.1 135.9 L754.8 127.3 L755.2 135.3 L755.7 129.2 L756.5 129.6 L757.2 128.6 L757.9 128.4 L758.4 126.7 L759.2 129.7 L759.8 129.1 L760.3 134.1 L761.0 127.8 L761.7 134.8 L762.4 129.5 L763.1 129.9 L763.8 130.8 L764.3 131.9 L764.8 127.9 L765.4 132.8 L765.9 129.2 L766.5 130.8 L767.2 131.2 L767.9 142.0 L768.6 131.8 L769.1 135.5 L769.6 134.9 L770.1 139.0 L770.8 134.6 L771.6 141.9 L772.2 135.3 L772.7 143.5 L773.3 137.9 L774.0 144.7 L774.8 138.5 L775.2 141.6 L775.9 139.4 L776.4 141.1 L777.2 140.1 L777.5 147.0 L777.6 143.4 L778.1 140.9 L778.7 142.6 L779.4 137.0 L780.1 143.3 L780.8 135.4 L781.6 146.2 L782.2 134.9 L782.8 141.9 L783.4 134.9 L784.1 141.1 L784.7 135.8 L785.4 133.7 L786.0 132.5 L786.5 135.8 L787.2 132.8 L787.7 132.5 L788.2 131.3 L788.8 135.7 L789.4 131.2 L789.9 140.7 L790.4 130.1 L791.1 138.7 L791.7 130.6 L792.2 130.0 L792.9 128.3 L793.6 129.4 L794.2 129.0 L794.9 136.5 L795.4 127.1 L796.1 135.2 L796.9 126.6 L797.5 133.2 L798.3 128.9 L799.0 135.7 L799.4 129.4 L800.1 136.1 L800.5 127.0 L801.3 136.8 L801.9 128.4 L802.3 127.3 L802.9 128.2 L803.5 129.9 L804.3 126.3 L804.8 135.8 L805.4 128.3 L806.1 130.2 L806.9 124.6 L807.3 127.4 L808.1 124.1 L808.8 129.7 L809.2 123.9 L809.9 127.7 L810.6 123.1 L811.3 132.5 L811.8 123.1 L812.4 124.9 L813.1 125.3 L813.6 125.0 L814.3 123.2 L815.1 128.4 L815.8 125.0 L816.5 132.0 L817.2 125.3 L817.8 128.6 L818.5 126.8 L819.0 128.7 L819.5 127.1 L820.0 133.2 L820.7 130.5 L821.3 139.3 L821.8 130.3 L822.4 136.7 L823.0 132.6 L823.5 134.1 L824.1 133.0 L824.6 138.8 L825.0 134.0 L825.6 139.9 L825.7 153.0 L826.1 135.3 L826.7 144.2 L827.1 134.7 L827.8 144.8 L828.6 137.3 L829.1 137.5 L829.6 136.6 L830.3 139.7 L830.8 137.7 L831.3 137.8 L832.1 137.2 L832.7 143.6 L833.4 136.4 L833.9 137.1 L834.7 134.7 L835.4 138.2 L836.1 137.4 L836.8 135.9 L837.5 134.7 L838.0 145.5 L838.7 134.5 L839.5 137.3 L840.1 136.6 L840.6 136.6 L841.0 134.2 L841.8 135.5 L842.3 136.8 L842.7 139.2 L843.4 137.3 L844.2 136.1 L844.6 136.7 L845.2 140.0 L845.8 137.2 L846.4 145.7 L846.9 137.8 L847.3 136.9 L848.0 138.5 L848.6 138.7 L849.4 141.1 L850.1 146.7 L850.6 140.6 L851.0 143.0 L851.6 143.7 L852.3 152.9 L852.8 142.6 L853.5 152.5 L854.1 142.4 L854.8 144.4 L855.4 142.3 L856.0 148.1 L856.5 140.4 L857.1 142.5 L857.5 138.9 L858.1 144.7 L858.9 137.7 L859.5 139.7 L860.0 137.2 L860.6 145.6 L861.1 139.1 L861.8 139.9 L862.5 135.5 L862.9 139.7 L863.6 136.2 L864.0 135.4 L864.7 136.6 L865.3 142.2 L865.8 134.3 L866.4 145.3 L866.8 136.2 L867.5 136.7 L868.2 136.1 L868.9 142.7 L869.4 136.9 L869.9 138.5 L870.6 137.8 L871.1 139.5 L871.7 137.7 L872.4 139.2 L872.9 137.0 L873.4 138.6 L873.9 139.6 L874.6 137.9 L875.4 136.8 L876.0 141.7 L876.5 136.8 L877.0 141.9 L877.6 136.7 L878.2 137.8 L878.9 137.3 L879.4 140.6 L880.0 136.8 L880.5 140.8 L881.1 138.8 L881.9 143.7 L882.4 136.6 L882.9 141.6 L883.7 137.5 L884.4 143.3 L885.1 136.0 L885.6 139.0 L886.2 135.9 L886.8 136.5 L887.6 136.5 L888.1 145.3 L888.7 138.8 L889.2 142.5 L889.6 138.4 L890.3 140.8 L890.9 140.3 L891.5 141.1 L892.2 141.9 L892.9 150.6 L893.7 140.5 L894.4 148.3 L895.0 142.6 L895.4 147.7 L896.1 140.2 L896.6 147.0 L897.0 140.4 L897.8 147.7 L898.3 140.8 L898.8 147.7 L899.5 141.4 L900.0 149.9 L900.5 141.7 L901.3 149.4 L901.7 141.1 L902.4 144.6 L902.9 140.2 L903.4 147.1 L904.0 143.1 L904.6 147.9 L905.3 141.9 L905.9 145.3 L906.3 142.2 L907.0 145.9 L907.6 145.2 L908.0 146.6 L908.5 144.0 L908.9 151.2 L909.4 145.7 L909.6 187.1 L909.9 153.7 L910.4 146.8 L910.9 149.5 L911.5 145.0 L912.1 152.0 L912.7 147.4 L913.3 146.9 L914.0 148.9 L914.1 224.4 L914.5 148.0 L915.1 147.6 L915.7 148.4 L916.3 146.8 L916.9 157.0 L917.5 149.9 L918.2 149.3 L918.8 146.9 L919.3 153.1 L919.7 149.3 L920.4 158.7 L921.1 150.2 L921.6 159.4 L922.1 151.0 L922.9 156.9 L923.6 148.8 L924.3 151.6 L924.8 149.0 L925.5 158.0 L926.1 149.5 L926.2 219.5 L926.6 159.2 L927.2 150.4 L928.0 156.6 L928.4 153.9 L928.9 155.9 L929.7 154.2 L930.2 161.7 L930.7 150.9 L931.2 153.2 L931.8 151.1 L932.5 155.1 L933.0 151.7 L933.4 151.8 L934.2 150.2 L934.6 153.4 L935.1 151.0 L935.7 154.5 L936.4 149.8 L936.8 153.3 L937.5 152.3 L938.3 155.7 L938.7 150.9 L939.3 161.4 L940.0 151.5 L940.6 159.3 L941.0 166.0 L941.2 153.7 L941.8 159.8 L942.6 153.9 L943.1 163.0 L943.7 154.0 L944.4 161.5 L945.1 153.3 L945.9 158.2 L946.4 152.9 L947.1 162.1 L947.7 152.8 L948.4 158.3 L948.9 156.4 L949.6 161.8 L950.3 154.9 L950.9 155.7 L951.5 151.9 L952.1 168.8 L952.8 153.9 L953.3 164.6 L954.0 152.8 L954.7 157.5 L955.4 151.6 L956.0 168.9 L956.6 154.8 L957.1 164.5 L957.7 156.0 L958.2 163.9 L958.8 154.3 L959.3 170.7 L959.4 178.0 L959.9 151.5 L960.7 163.7 L961.2 151.0 L961.8 154.8 L962.3 148.4 L962.7 163.7 L963.3 149.0 L963.8 169.6 L964.6 147.1 L965.2 168.7 L966.0 149.0 L966.7 153.3 L967.3 149.4 L968.0 156.9 L968.8 150.7 L969.3 156.6 L969.9 152.0 L970.4 158.2 L970.8 156.1 L971.5 174.7 L972.1 153.1 L972.8 159.7 L973.2 153.1 L973.9 157.7 L974.4 152.6 L975.1 159.3 L975.7 151.7 L976.1 171.4 L976.9 155.8 L977.0 176.0 L977.5 158.0 L978.2 153.4 L978.7 166.0 L979.4 154.0 L979.9 172.7 L980.7 153.7 L981.2 155.7 L982.0 151.0 L982.4 156.8 L983.1 155.2 L983.9 170.9 L984.6 153.2 L985.3 162.7 L986.0 150.9 L986.5 167.3 L987.1 155.9 L987.7 163.3 L988.1 152.3 L988.6 153.6 L989.1 155.4 L989.8 155.3 L990.5 155.4 L990.6 173.0 L991.1 156.3 L991.9 157.6 L991.8 155.6 L994.0 157.5 L996.0 157.2 L998.0 158.5 L1000.0 156.8 L1002.6 156.4 L1005.0 158.0 L1007.6 154.7 L1010.0 157.0 L1012.0 158.0 L1015.8 159.7 L1019.2 156.4 L1022.0 158.5 L1025.0 157.5 L1029.1 158.1 L1032.0 160.0 L1035.8 161.4 L1038.0 160.5 L1040.8 162.6 L1042.3 159.5 L1046.0 160.7 L1050.0 162.0 L1052.0 163.2 L1054.5 162.0 L1058.0 162.0 L1064.0 163.5 L1068.8 165.3 L1073.6 164.2 L1078.5 166.3 L1083.0 166.2 L1088.0 165.2 L1094.0 167.5 L1099.0 168.5 L1103.0 168.5 L1108.0 170.3 L1114.5 172.2" fill="none" stroke="#c4694d" stroke-opacity="0.85" stroke-width="1.6" stroke-linejoin="round"/>
<path d="M309.46 448.96l15.28 15.28M309.46 464.24l15.28 -15.28" stroke="#ff0000" stroke-width="3.33" fill="none"/>
<path d="M301.82 412.5h30.56M301.82 501.5h30.56" stroke="#ff0000" stroke-width="3.33" fill="none"/>
<path d="M317.5 412.3V501.1" stroke="#ff0000" stroke-width="3.33" fill="none"/>
<path d="M375.16 269.16l15.28 15.28M375.16 284.44l15.28 -15.28" stroke="#ff0000" stroke-width="3.33" fill="none"/>
<path d="M367.52 263.5h30.56M367.52 290.5h30.56" stroke="#ff0000" stroke-width="3.33" fill="none"/>
<path d="M382.5 263.2V290.5" stroke="#ff0000" stroke-width="3.33" fill="none"/>
<path d="M485.46 150.76l15.28 15.28M485.46 166.04l15.28 -15.28" stroke="#ff0000" stroke-width="3.33" fill="none"/>
<path d="M477.82 151.5h30.56M477.82 165.5h30.56" stroke="#ff0000" stroke-width="3.33" fill="none"/>
<path d="M493.5 151.4V165.9" stroke="#ff0000" stroke-width="3.33" fill="none"/>
<path d="M612.36 114.86l15.28 15.28M612.36 130.14l15.28 -15.28" stroke="#ff0000" stroke-width="3.33" fill="none"/>
<path d="M604.72 115.5h30.56M604.72 130.5h30.56" stroke="#ff0000" stroke-width="3.33" fill="none"/>
<path d="M620.5 115.0V130.0" stroke="#ff0000" stroke-width="3.33" fill="none"/>
<path d="M745.86 122.76l15.28 15.28M745.86 138.04l15.28 -15.28" stroke="#ff0000" stroke-width="3.33" fill="none"/>
<path d="M738.22 123.5h30.56M738.22 137.5h30.56" stroke="#ff0000" stroke-width="3.33" fill="none"/>
<path d="M753.5 123.3V137.5" stroke="#ff0000" stroke-width="3.33" fill="none"/>
<path d="M874.36 136.16l15.28 15.28M874.36 151.44l15.28 -15.28" stroke="#ff0000" stroke-width="3.33" fill="none"/>
<path d="M866.72 136.5h30.56M866.72 151.5h30.56" stroke="#ff0000" stroke-width="3.33" fill="none"/>
<path d="M882.5 136.5V151.2" stroke="#ff0000" stroke-width="3.33" fill="none"/>
<path d="M930.06 146.26l15.28 15.28M930.06 161.54l15.28 -15.28" stroke="#ff0000" stroke-width="3.33" fill="none"/>
<path d="M922.42 146.5h30.56M922.42 161.5h30.56" stroke="#ff0000" stroke-width="3.33" fill="none"/>
<path d="M937.5 146.5V161.4" stroke="#ff0000" stroke-width="3.33" fill="none"/>
<path d="M276.0 856.0 L280.2 856.0 L285.2 660.0 L288.2 589.4 L301.9 574.5 L309.4 554.6 L315.6 537.2 L324.3 533.4 L341.7 538.4 L344.0 547.0 L346.7 660.0 L351.7 856.0" fill="none" stroke="rgb(137,55,151)" stroke-opacity="0.5" stroke-width="4.7" stroke-dasharray="17.30 7.20 17.30 7.20 17.30 7.20 17.30 7.20 17.30 7.20 17.30 7.20 17.30 7.20 17.30 7.20 17.30 7.20 17.30 7.20 17.30 7.20 17.30 7.20 17.30 7.20 17.30 7.20 17.30 7.20 16.92 7.04 16.92 7.04 16.92 7.04 16.92 7.04 16.92 7.04 16.92 7.04 16.92 7.04 16.92 7.04 16.92 7.04 16.92 7.04 16.92 7.04 16.92 7.04 16.92 7.04 16.92 7.04 16.92 7.04" stroke-linejoin="round"/>
<path d="M336.0 856.0 L339.7 856.0 L344.2 660.0 L348.0 467.5 L349.2 467.5 L376.6 489.9 L389.0 507.3 L409.0 480.0 L414.0 473.7 L416.4 480.0 L420.9 660.0 L426.9 856.0" fill="none" stroke="rgb(101,113,197)" stroke-opacity="0.5" stroke-width="4.7" stroke-dasharray="17.30 7.20 17.30 7.20 17.30 7.20 17.30 7.20 17.30 7.20 17.30 7.20 17.30 7.20 17.30 7.20 17.30 7.20 17.30 7.20 17.30 7.20 17.30 7.20 17.30 7.20 17.30 7.20 17.30 7.20 17.30 7.20 17.30 7.20 17.30 7.20 17.30 7.20 17.30 7.20 17.07 7.01 16.83 7.01 16.83 7.01 16.83 7.01 16.83 7.01 16.83 7.01 16.83 7.01 16.83 7.01 16.83 7.01 16.83 7.01 16.83 7.01 16.83 7.01 16.83 7.01 16.83 7.01 16.83 7.01 16.83 7.01 16.83 7.01 16.83 7.01" stroke-linejoin="round"/>
<path d="M407.5 856.0 L412.0 856.0 L417.0 660.0 L422.5 480.0 L425.0 381.0 L428.0 362.0 L432.0 347.5 L436.0 334.5 L440.5 322.0 L444.5 311.5 L448.3 302.5 L456.3 282.9 L463.0 265.0 L467.9 253.0 L471.5 246.0 L482.3 231.1 L489.0 220.0 L493.9 211.2 L504.0 198.0 L508.9 192.1 L524.0 180.0 L528.0 177.1 L539.6 171.3 L547.9 168.0 L551.5 166.0 L552.6 172.0 L553.3 240.0 L558.3 480.0 L563.3 700.0 L567.5 856.0" fill="none" stroke="rgb(71,151,175)" stroke-opacity="0.5" stroke-width="4.7" stroke-dasharray="17.30 7.20 17.30 7.20 17.30 7.20 17.30 7.20 17.30 7.20 17.30 7.20 17.30 7.20 17.30 7.20 17.30 7.20 17.30 7.20 17.30 7.20 17.30 7.20 17.30 7.20 17.30 7.20 17.30 7.20 17.30 7.20 17.30 7.20 17.30 7.20 17.30 7.20 17.30 7.20 17.30 7.20 17.30 7.20 17.30 7.20 17.30 7.20 17.30 7.20 17.30 7.20 17.30 7.20 17.30 7.20 17.30 7.20 17.30 7.20 17.51 7.31 17.58 7.31 17.58 7.31 17.58 7.31 17.58 7.31 17.58 7.31 17.58 7.31 17.58 7.31 17.58 7.31 17.58 7.31 17.58 7.31 17.58 7.31 17.58 7.31 17.58 7.31 17.58 7.31 17.58 7.31 17.58 7.31 17.58 7.31 17.58 7.31 17.58 7.31 17.58 7.31 17.58 7.31 17.58 7.31 17.58 7.31 17.58 7.31 17.58 7.31 17.58 7.31 17.58 7.31 17.58 7.31 17.58 7.31" stroke-linejoin="round"/>
<path d="M542.0 856.0 L545.9 856.0 L550.3 660.0 L554.6 460.0 L560.8 240.0 L562.0 164.5 L564.0 162.8 L575.0 162.2 L585.0 162.3 L594.1 162.9 L609.9 166.2 L618.2 167.9 L633.2 174.5 L639.8 177.8 L653.1 186.1 L659.7 192.0 L673.0 201.9 L678.8 206.5 L679.8 240.0 L685.3 480.0 L691.5 700.0 L696.5 856.0" fill="none" stroke="rgb(71,143,61)" stroke-opacity="0.5" stroke-width="4.7" stroke-dasharray="17.30 7.20 17.30 7.20 17.30 7.20 17.30 7.20 17.30 7.20 17.30 7.20 17.30 7.20 17.30 7.20 17.30 7.20 17.30 7.20 17.30 7.20 17.30 7.20 17.30 7.20 17.30 7.20 17.30 7.20 17.30 7.20 17.30 7.20 17.30 7.20 17.30 7.20 17.30 7.20 17.30 7.20 17.30 7.20 17.30 7.20 17.30 7.20 17.30 7.20 17.30 7.20 17.30 7.20 17.30 7.20 17.30 7.20 17.30 7.20 17.30 7.20 17.30 7.20 17.30 7.20 17.31 7.32 17.59 7.32 17.59 7.32 17.59 7.32 17.59 7.32 17.59 7.32 17.59 7.32 17.59 7.32 17.59 7.32 17.59 7.32 17.59 7.32 17.59 7.32 17.59 7.32 17.59 7.32 17.59 7.32 17.59 7.32 17.59 7.32 17.59 7.32 17.59 7.32 17.59 7.32 17.59 7.32 17.59 7.32 17.59 7.32 17.59 7.32 17.59 7.32 17.59 7.32 17.59 7.32 17.59 7.32" stroke-linejoin="round"/>
<path d="M669.0 856.0 L673.3 856.0 L678.3 660.0 L684.8 480.0 L690.2 240.0 L691.6 188.6 L694.6 182.0 L709.5 176.2 L716.1 172.9 L732.7 167.9 L740.2 165.9 L754.5 163.6 L756.5 164.0 L763.4 167.9 L779.2 173.7 L785.0 177.8 L798.3 187.8 L802.4 192.4 L813.2 206.9 L814.3 214.0 L815.5 240.0 L821.7 480.0 L830.4 660.0 L836.7 856.0" fill="none" stroke="rgb(239,217,57)" stroke-opacity="0.5" stroke-width="4.7" stroke-dasharray="17.30 7.20 17.30 7.20 17.30 7.20 17.30 7.20 17.30 7.20 17.30 7.20 17.30 7.20 17.30 7.20 17.30 7.20 17.30 7.20 17.30 7.20 17.30 7.20 17.30 7.20 17.30 7.20 17.30 7.20 17.30 7.20 17.30 7.20 17.30 7.20 17.30 7.20 17.30 7.20 17.30 7.20 17.30 7.20 17.30 7.20 17.30 7.20 17.30 7.20 17.30 7.20 17.30 7.20 17.30 7.20 17.30 7.20 17.30 7.20 17.30 7.20 17.30 7.20 17.30 7.20 17.43 7.31 17.56 7.31 17.56 7.31 17.56 7.31 17.56 7.31 17.56 7.31 17.56 7.31 17.56 7.31 17.56 7.31 17.56 7.31 17.56 7.31 17.56 7.31 17.56 7.31 17.56 7.31 17.56 7.31 17.56 7.31 17.56 7.31 17.56 7.31 17.56 7.31 17.56 7.31 17.56 7.31 17.56 7.31 17.56 7.31 17.56 7.31 17.56 7.31 17.56 7.31 17.56 7.31 17.56 7.31" stroke-linejoin="round"/>
<path d="M805.0 856.0 L809.3 856.0 L815.5 660.0 L823.0 460.0 L830.4 242.5 L839.2 259.9 L851.6 289.8 L864.0 327.1 L876.5 369.4 L889.0 414.3 L898.9 462.5 L913.8 528.5 L926.3 572.0 L938.7 629.3 L946.2 660.0 L956.6 695.0 L961.6 714.9 L967.4 734.8 L974.9 758.0 L982.3 779.6 L989.8 799.5 L995.0 808.0 L1000.0 816.6 L1004.0 825.0 L1008.3 832.4 L1012.0 837.0 L1015.8 840.7 L1022.4 846.0 L1028.2 847.7 L1037.3 850.5 L1045.6 852.4 L1051.5 853.1 L1058.1 854.1 L1064.7 855.2 L1066.0 857.0" fill="none" stroke="rgb(215,147,33)" stroke-opacity="0.5" stroke-width="4.7" stroke-dasharray="17.30 7.20 17.30 7.20 17.30 7.20 17.30 7.20 17.30 7.20 17.30 7.20 17.30 7.20 17.30 7.20 17.30 7.20 17.30 7.20 17.30 7.20 17.30 7.20 17.30 7.20 17.30 7.20 17.30 7.20 17.30 7.20 17.30 7.20 17.30 7.20 17.30 7.20 17.30 7.20 17.30 7.20 17.30 7.20 17.30 7.20 17.30 7.20 17.30 7.20 17.06 7.05 16.94 7.05 16.94 7.05 16.94 7.05 16.94 7.05 16.94 7.05 16.94 7.05 16.94 7.05 16.94 7.05 16.94 7.05 16.94 7.05 16.94 7.05 16.94 7.05 16.94 7.05 16.94 7.05 16.94 7.05 16.94 7.05 16.94 7.05 16.94 7.05 16.94 7.05 16.94 7.05 16.94 7.05 16.94 7.05 16.94 7.05 16.94 7.05 16.94 7.05 16.94 7.05 16.94 7.05 16.94 7.05 16.94 7.05" stroke-linejoin="round"/>
<path d="M886.0 856.0 L890.2 856.0 L895.0 780.0 L902.6 660.0 L906.0 620.0 L913.8 528.5 L926.3 572.0 L938.7 629.3 L946.2 660.0 L956.6 695.0 L961.6 714.9 L967.4 734.8 L974.9 758.0 L982.3 779.6 L989.8 799.5 L995.0 808.0 L1000.0 816.6 L1004.0 825.0 L1008.3 832.4 L1012.0 837.0 L1015.8 840.7 L1022.4 846.0 L1028.2 847.7 L1037.3 850.5 L1045.6 852.4 L1051.5 853.1 L1058.1 854.1 L1064.7 855.2 L1066.0 857.0" fill="none" stroke="rgb(193,73,21)" stroke-opacity="0.5" stroke-width="4.7" stroke-dasharray="17.30 7.20 17.30 7.20 17.30 7.20 17.30 7.20 17.30 7.20 17.30 7.20 17.30 7.20 17.30 7.20 17.30 7.20 17.30 7.20 17.30 7.20 17.30 7.20 17.30 7.20 17.22 7.03 16.88 7.03 16.88 7.03 16.88 7.03 16.88 7.03 16.88 7.03 16.88 7.03 16.88 7.03 16.88 7.03 16.88 7.03 16.88 7.03 16.88 7.03 16.88 7.03 16.88 7.03 16.88 7.03 16.88 7.03 16.88 7.03 16.88 7.03" stroke-linejoin="round"/>
</g>
<g clip-path="url(#c1)">
<path d="M1213.0 857.0 L1224.2 819.3 L1226.0 831.8 L1229.2 803.1 L1235.5 777.0 L1245.4 737.2 L1248.4 734.7 L1249.1 700.0 L1250.9 660.0 L1252.6 586.0 L1254.2 546.2 L1258.4 493.1 L1261.7 474.8 L1265.0 552.8 L1267.5 472.3 L1270.0 481.5 L1273.3 469.0 L1275.8 476.5 L1277.5 519.6 L1280.8 479.8 L1283.3 463.2 L1285.8 448.3 L1288.3 456.6 L1289.9 461.5 L1291.6 457.4 L1294.1 468.2 L1295.2 474.0 L1297.4 459.0 L1299.9 463.2 L1302.4 466.5 L1305.7 474.8 L1306.5 477.3 L1309.0 467.3 L1311.5 472.3 L1316.5 475.6 L1319.0 488.1 L1319.8 504.7 L1322.3 483.1 L1324.0 496.4 L1325.6 503.0 L1328.1 529.6 L1330.9 555.3 L1333.1 513.0 L1334.7 479.8 L1336.4 471.5 L1339.7 467.3 L1342.2 471.5 L1344.7 477.3 L1347.2 467.3 L1350.5 466.5 L1352.2 476.5 L1353.8 479.8 L1358.0 472.3 L1361.3 478.1 L1363.8 483.9 L1366.3 478.1 L1368.8 480.6 L1372.9 488.9 L1377.9 489.8 L1379.6 499.7 L1381.2 509.7 L1383.4 514.6 L1386.2 498.0 L1388.7 501.4 L1392.8 500.5 L1399.5 508.0 L1402.8 510.5 L1406.9 513.0 L1410.3 517.1 L1412.8 524.6 L1414.4 522.9 L1416.1 525.4 L1419.4 536.2 L1421.9 542.9 L1424.4 546.2 L1427.7 541.2 L1431.0 536.2 L1434.3 536.2 L1439.3 540.4 L1444.3 544.5 L1449.3 547.0 L1452.6 548.7 L1455.1 546.2 L1456.7 553.7 L1458.4 547.0 L1462.5 552.8 L1463.5 553.2 L1466.8 559.0 L1471.0 564.0 L1473.5 559.8 L1475.9 563.2 L1479.3 562.3 L1482.6 568.1 L1488.4 568.1 L1492.5 568.1 L1496.7 574.8 L1499.2 574.8 L1504.2 583.9 L1506.7 586.4 L1510.0 585.6 L1512.5 583.1 L1517.4 594.7 L1520.8 591.4 L1526.6 599.7 L1531.5 596.3 L1534.9 603.0 L1539.8 597.2 L1545.7 606.3 L1551.5 605.5 L1555.6 610.5 L1558.9 611.3 L1560.6 619.6 L1563.1 622.9 L1567.2 612.9 L1569.7 617.9 L1571.4 615.4 L1573.9 619.6 L1580.5 619.6 L1586.3 626.2 L1589.6 624.6 L1596.3 631.2 L1599.6 630.4 L1607.9 639.5 L1611.2 637.8 L1617.0 644.5 L1623.7 644.5 L1632.8 652.8 L1636.1 666.9 L1638.6 657.8 L1641.9 660.2 L1644.4 661.1 L1652.7 669.4 L1655.2 666.9 L1660.2 670.2 L1664.3 670.2 L1668.5 672.7 L1675.9 676.8 L1680.9 677.7 L1683.5 683.9 L1685.5 679.8 L1687.6 685.6 L1689.3 683.1 L1693.5 686.4 L1698.4 688.9 L1701.8 688.0 L1705.1 688.0 L1710.1 691.4 L1715.0 695.5 L1720.8 695.5 L1724.2 693.9 L1729.1 698.8 L1733.3 698.8 L1739.1 702.2 L1744.9 705.5 L1748.2 706.3 L1752.4 712.1 L1759.0 711.3 L1762.3 714.6 L1765.2 722.1 L1770.6 715.4 L1776.4 720.4 L1783.1 722.1 L1789.7 724.6 L1796.4 724.9 L1808.0 731.2 L1816.3 734.5 L1832.9 741.2 L1849.5 747.8 L1866.1 753.6 L1874.4 758.6 L1882.7 761.1 L1899.3 766.1 L1906.7 768.0 L1910.1 764.7 L1911.7 768.8 L1914.2 773.0 L1916.7 768.0 L1919.2 776.3 L1921.7 773.0 L1924.2 778.0 L1927.5 771.3 L1930.8 770.5 L1931.6 778.8 L1936.6 774.6 L1939.9 773.8 L1943.3 780.5 L1944.9 775.5 L1946.6 783.8 L1949.9 781.3 L1953.2 784.6 L1955.7 780.5 L1959.0 785.4 L1962.3 789.6 L1964.0 785.4 L1969.8 784.6 L1974.0 783.8 L1977.3 786.3 L1978.9 792.9 L1983.1 797.1 L1985.6 792.9 L1989.7 792.1 L1993.9 786.3 L1996.4 790.4 L1999.7 792.1 L2002.2 790.4 L2006.3 794.6 L2010.5 797.9 L2013.0 792.9 L2013.8 787.1 L2014.1 787.8 L2014.3 789.7 L2014.6 792.7 L2014.9 796.6 L2015.1 801.3 L2015.4 806.2 L2015.8 799.8 L2016.1 793.8 L2016.5 788.6 L2016.9 784.6 L2017.2 782.1 L2017.6 781.3 L2017.9 782.4 L2018.3 785.5 L2018.6 790.5 L2018.9 797.0 L2019.3 804.6 L2019.6 812.8 L2019.9 802.9 L2020.3 793.7 L2020.6 785.8 L2020.9 779.7 L2021.3 775.9 L2021.6 774.6 L2021.9 776.0 L2022.3 780.3 L2022.7 787.0 L2023.0 795.8 L2023.3 806.0 L2023.7 817.0 L2024.0 803.9 L2024.3 791.6 L2024.6 781.1 L2024.8 773.1 L2025.1 768.0 L2025.4 766.3 L2025.8 768.2 L2026.1 773.9 L2026.5 782.8 L2026.9 794.5 L2027.2 808.2 L2027.6 822.8 L2028.1 808.8 L2028.5 795.8 L2029.0 784.6 L2029.5 776.0 L2029.9 770.6 L2030.4 768.8 L2030.9 770.7 L2031.4 776.2 L2031.9 785.0 L2032.4 796.4 L2032.9 809.8 L2033.4 824.1 L2033.9 805.7 L2034.4 788.6 L2035.0 773.9 L2035.5 762.6 L2036.0 755.5 L2036.5 753.1 L2037.2 755.8 L2037.9 763.7 L2038.6 776.2 L2039.3 792.5 L2040.0 811.5 L2040.7 831.9 L2041.3 810.7 L2041.9 790.9 L2042.5 773.8 L2043.0 760.8 L2043.6 752.6 L2044.2 749.8 L2045.3 752.8 L2046.5 761.6 L2047.7 775.5 L2048.8 793.8 L2049.9 814.9 L2051.1 837.7 L2051.9 815.6 L2052.8 795.0 L2053.6 777.2 L2054.4 763.7 L2055.3 755.1 L2056.1 752.5 L2056.8 755.0 L2058.0 752.5" fill="none" stroke="#3f83c2" stroke-opacity="0.88" stroke-width="1.6" stroke-linejoin="round"/>
<path d="M1241.96 749.46l15.28 15.28M1241.96 764.74l15.28 -15.28" stroke="#00008b" stroke-width="3.33" fill="none"/>
<path d="M1234.32 677.5h30.56M1234.32 836.5h30.56" stroke="#00008b" stroke-width="3.33" fill="none"/>
<path d="M1249.5 677.9V836.2" stroke="#00008b" stroke-width="3.33" fill="none"/>
<path d="M1297.76 475.96l15.28 15.28M1297.76 491.24l15.28 -15.28" stroke="#00008b" stroke-width="3.33" fill="none"/>
<path d="M1290.12 461.5h30.56M1290.12 503.5h30.56" stroke="#00008b" stroke-width="3.33" fill="none"/>
<path d="M1305.5 461.0V503.6" stroke="#00008b" stroke-width="3.33" fill="none"/>
<path d="M1333.36 477.26l15.28 15.28M1333.36 492.54l15.28 -15.28" stroke="#00008b" stroke-width="3.33" fill="none"/>
<path d="M1325.72 462.5h30.56M1325.72 507.5h30.56" stroke="#00008b" stroke-width="3.33" fill="none"/>
<path d="M1341.5 462.5V507.3" stroke="#00008b" stroke-width="3.33" fill="none"/>
<path d="M1402.06 512.56l15.28 15.28M1402.06 527.84l15.28 -15.28" stroke="#00008b" stroke-width="3.33" fill="none"/>
<path d="M1394.42 504.5h30.56M1394.42 534.5h30.56" stroke="#00008b" stroke-width="3.33" fill="none"/>
<path d="M1409.5 504.8V534.7" stroke="#00008b" stroke-width="3.33" fill="none"/>
<path d="M1447.56 550.66l15.28 15.28M1447.56 565.94l15.28 -15.28" stroke="#00008b" stroke-width="3.33" fill="none"/>
<path d="M1439.92 542.5h30.56M1439.92 573.5h30.56" stroke="#00008b" stroke-width="3.33" fill="none"/>
<path d="M1455.5 542.6V573.5" stroke="#00008b" stroke-width="3.33" fill="none"/>
<path d="M1566.36 594.76l15.28 15.28M1566.36 610.04l15.28 -15.28" stroke="#00008b" stroke-width="3.33" fill="none"/>
<path d="M1558.72 581.5h30.56M1558.72 624.5h30.56" stroke="#00008b" stroke-width="3.33" fill="none"/>
<path d="M1574.5 581.2V624.3" stroke="#00008b" stroke-width="3.33" fill="none"/>
<path d="M1689.86 675.96l15.28 15.28M1689.86 691.24l15.28 -15.28" stroke="#00008b" stroke-width="3.33" fill="none"/>
<path d="M1682.22 666.5h30.56M1682.22 701.5h30.56" stroke="#00008b" stroke-width="3.33" fill="none"/>
<path d="M1697.5 666.2V701.1" stroke="#00008b" stroke-width="3.33" fill="none"/>
<path d="M1763.56 705.36l15.28 15.28M1763.56 720.64l15.28 -15.28" stroke="#00008b" stroke-width="3.33" fill="none"/>
<path d="M1755.92 694.5h30.56M1755.92 732.5h30.56" stroke="#00008b" stroke-width="3.33" fill="none"/>
<path d="M1771.5 694.1V732.2" stroke="#00008b" stroke-width="3.33" fill="none"/>
<path d="M1864.86 755.66l15.28 15.28M1864.86 770.94l15.28 -15.28" stroke="#00008b" stroke-width="3.33" fill="none"/>
<path d="M1857.22 709.5h30.56M1857.22 816.5h30.56" stroke="#00008b" stroke-width="3.33" fill="none"/>
<path d="M1872.5 709.3V816.8" stroke="#00008b" stroke-width="3.33" fill="none"/>
<path d="M1164.5 857.0 L1165.7 780.0 L1167.0 700.0 L1169.4 600.0 L1171.5 520.0 L1173.4 465.0 L1174.7 560.0 L1175.5 640.0 L1176.5 560.0 L1178.5 450.0 L1180.9 395.0 L1182.5 430.0 L1185.0 577.0 L1187.0 400.0 L1188.7 356.0 L1190.0 354.7 L1192.5 389.6 L1194.1 363.0 L1195.8 401.2 L1198.3 359.7 L1201.6 378.0 L1204.9 348.9 L1207.4 363.0 L1209.9 348.1 L1212.4 387.9 L1214.0 355.6 L1216.5 420.0 L1219.2 583.2 L1221.5 356.4 L1223.2 339.8 L1224.8 329.8 L1229.0 369.7 L1232.3 312.4 L1235.6 354.7 L1238.1 319.0 L1240.6 346.4 L1243.1 315.7 L1246.4 339.8 L1249.7 331.5 L1253.0 339.0 L1256.4 334.0 L1259.7 336.5 L1263.0 338.1 L1266.3 348.1 L1270.5 341.5 L1274.6 354.7 L1277.9 373.0 L1279.6 364.7 L1282.1 371.3 L1284.6 374.6 L1287.9 358.0 L1291.2 361.4 L1294.5 366.3 L1298.7 363.0 L1300.3 376.3 L1302.8 368.0 L1306.2 356.4 L1309.5 369.7 L1312.8 381.3 L1316.1 376.3 L1319.4 373.0 L1322.8 379.6 L1326.1 368.0 L1328.5 380.0 L1331.5 388.0 L1335.1 394.8 L1337.6 393.2 L1340.1 381.5 L1342.6 394.0 L1345.1 398.1 L1346.7 392.3 L1349.2 399.0 L1351.7 398.1 L1354.2 391.5 L1356.7 396.5 L1359.2 384.9 L1361.7 394.8 L1364.2 398.1 L1366.7 394.8 L1368.3 399.8 L1370.8 397.3 L1373.3 403.9 L1376.6 395.6 L1379.1 395.6 L1380.8 403.1 L1383.3 403.9 L1386.6 402.3 L1388.2 413.9 L1391.5 403.9 L1394.0 409.8 L1396.5 413.1 L1399.0 408.1 L1401.5 416.4 L1404.0 426.3 L1406.5 416.4 L1409.8 431.3 L1412.3 428.0 L1415.6 420.5 L1418.9 429.7 L1421.4 439.6 L1423.1 475.3 L1424.7 451.2 L1427.2 456.2 L1429.7 447.9 L1431.4 459.5 L1433.0 452.9 L1434.7 466.2 L1437.2 456.2 L1439.7 459.5 L1442.2 451.2 L1444.7 449.6 L1447.2 447.9 L1450.5 456.2 L1453.0 452.9 L1455.8 445.4 L1457.1 459.5 L1459.6 467.8 L1462.1 466.2 L1463.7 467.8 L1465.4 456.2 L1467.9 459.5 L1469.6 452.1 L1472.9 457.9 L1476.2 466.2 L1479.5 452.9 L1482.0 438.0 L1483.3 431.3 L1485.3 449.6 L1487.8 442.9 L1490.3 451.2 L1492.0 446.3 L1494.5 456.2 L1496.9 459.5 L1499.4 451.2 L1501.9 469.5 L1505.2 457.9 L1506.9 464.5 L1509.4 501.0 L1512.7 459.5 L1514.4 450.4 L1516.9 457.9 L1520.2 471.2 L1522.7 451.2 L1525.2 449.6 L1526.8 450.4 L1530.1 433.8 L1533.5 441.3 L1537.6 446.3 L1542.6 442.9 L1547.6 442.1 L1553.5 441.0 L1563.5 440.5 L1571.5 441.0 L1579.2 441.2 L1581.7 447.8 L1585.0 442.9 L1588.3 452.0 L1592.5 436.2 L1596.6 429.3 L1600.8 431.2 L1604.9 435.4 L1605.5 429.4 L1606.5 444.5 L1607.2 432.5 L1608.0 430.2 L1609.1 427.9 L1609.8 435.7 L1610.6 427.0 L1611.5 443.3 L1612.3 430.6 L1612.5 459.5 L1613.2 442.8 L1613.8 427.2 L1614.6 429.4 L1615.6 428.6 L1616.2 437.2 L1617.0 425.6 L1617.6 434.6 L1618.2 427.4 L1619.0 428.6 L1620.0 424.8 L1620.6 441.7 L1621.3 426.6 L1622.1 434.3 L1622.9 427.4 L1623.7 428.4 L1624.7 426.3 L1625.3 434.8 L1626.2 430.2 L1627.0 438.1 L1627.7 431.7 L1628.4 432.7 L1629.0 430.4 L1629.9 449.8 L1630.8 432.9 L1631.4 453.2 L1632.2 433.4 L1633.0 446.2 L1633.8 435.0 L1634.5 443.7 L1635.3 436.6 L1636.1 441.1 L1637.1 432.8 L1638.1 441.2 L1639.0 435.2 L1639.8 444.0 L1640.5 430.3 L1641.4 436.1 L1642.0 434.0 L1642.9 431.4 L1643.7 428.2 L1644.7 433.7 L1645.7 429.4 L1646.3 435.2 L1647.3 430.1 L1647.9 435.6 L1648.6 427.3 L1649.5 444.3 L1650.1 431.0 L1651.1 449.7 L1651.7 428.2 L1652.7 436.7 L1653.4 433.4 L1653.9 467.8 L1654.1 446.1 L1655.0 429.2 L1655.7 436.3 L1656.7 428.4 L1657.4 447.9 L1658.1 425.8 L1658.9 424.6 L1659.6 424.7 L1660.6 426.7 L1661.4 414.7 L1662.2 425.0 L1663.0 415.5 L1663.7 439.8 L1664.6 415.6 L1665.2 417.8 L1665.8 413.8 L1666.7 428.5 L1667.3 420.3 L1668.2 433.8 L1669.2 414.2 L1670.2 442.9 L1671.2 412.2 L1672.1 444.3 L1672.7 419.8 L1673.7 416.1 L1674.6 418.3 L1675.5 416.7 L1676.3 455.0 L1676.5 411.8 L1677.1 446.7 L1677.9 412.6 L1678.7 435.6 L1678.8 466.0 L1679.4 422.1 L1680.3 427.9 L1680.5 414.0 L1681.3 480.2 L1682.3 416.0 L1683.1 452.0 L1683.8 476.1 L1684.8 418.0 L1686.2 413.0 L1687.0 442.1 L1687.9 452.8 L1688.8 410.8 L1689.6 373.2 L1690.4 389.2 L1691.2 413.0 L1692.0 452.6 L1692.9 472.7 L1693.7 437.6 L1694.6 403.3 L1695.4 372.3 L1696.2 395.9 L1697.0 409.7 L1697.8 435.8 L1698.7 468.8 L1699.5 486.0 L1700.3 431.9 L1701.2 379.8 L1702.0 387.1 L1702.9 376.2 L1703.7 374.0 L1705.3 392.0 L1706.2 390.1 L1707.0 379.8 L1707.8 418.0 L1708.7 443.9 L1709.5 467.8 L1710.3 432.5 L1711.1 379.8 L1711.9 378.9 L1712.8 363.0 L1713.6 359.9 L1714.4 372.5 L1715.3 372.8 L1716.1 373.2 L1717.0 406.9 L1717.8 440.4 L1718.6 406.9 L1719.4 376.5 L1720.2 379.6 L1721.1 367.3 L1722.0 377.5 L1722.8 379.8 L1723.6 457.3 L1724.4 517.0 L1725.2 450.9 L1726.1 371.5 L1726.9 370.0 L1727.7 349.9 L1729.0 358.0 L1730.2 346.6 L1731.5 352.0 L1732.7 340.0 L1733.5 349.5 L1734.4 351.6 L1735.2 351.6 L1736.1 344.9 L1736.9 335.0 L1737.7 344.4 L1738.5 354.9 L1739.3 356.6 L1740.2 340.0 L1741.8 358.2 L1742.7 346.6 L1743.5 347.9 L1744.4 355.5 L1745.2 349.9 L1746.8 363.2 L1747.7 408.5 L1748.5 435.4 L1749.3 412.9 L1750.2 378.4 L1751.0 353.2 L1751.5 340.8 L1752.6 354.6 L1753.2 338.1 L1754.0 346.2 L1754.7 335.7 L1755.5 372.0 L1755.5 340.5 L1756.3 335.3 L1757.0 350.6 L1757.8 337.9 L1758.8 343.3 L1759.4 340.3 L1760.3 349.8 L1761.2 342.3 L1762.0 352.4 L1762.8 338.9 L1763.5 368.0 L1763.7 343.0 L1764.3 338.3 L1765.3 348.8 L1766.1 339.8 L1766.8 341.1 L1767.6 341.5 L1768.2 340.3 L1768.9 336.6 L1769.6 348.9 L1770.6 338.0 L1771.4 343.4 L1772.2 341.6 L1773.1 343.0 L1773.7 341.8 L1774.7 355.5 L1775.4 339.6 L1776.4 349.6 L1777.5 337.1 L1778.6 339.7 L1779.4 336.4 L1780.4 351.5 L1781.5 341.3 L1782.6 347.8 L1783.7 340.5 L1784.5 358.6 L1785.1 379.4 L1785.2 336.4 L1785.9 346.0 L1786.6 342.1 L1787.0 381.0 L1787.7 341.0 L1788.3 338.2 L1789.0 347.4 L1790.0 336.3 L1790.0 376.0 L1790.8 356.2 L1791.6 336.6 L1792.1 424.0 L1792.7 353.7 L1793.7 339.0 L1794.5 372.0 L1794.5 350.5 L1795.6 338.4 L1796.3 341.6 L1797.1 339.5 L1798.0 346.8 L1799.0 334.7 L1799.9 342.0 L1800.1 377.0 L1800.8 339.8 L1801.5 356.8 L1802.1 337.2 L1803.0 339.9 L1803.9 336.2 L1804.7 350.0 L1805.3 335.0 L1806.3 337.4 L1807.3 333.3 L1808.3 337.1 L1809.1 333.9 L1809.7 347.7 L1810.6 335.5 L1811.4 343.6 L1812.3 331.9 L1813.4 334.0 L1814.4 335.8 L1815.3 347.7 L1816.2 332.7 L1816.9 336.5 L1817.7 330.0 L1818.8 336.2 L1819.6 330.0 L1820.6 338.4 L1821.5 328.3 L1822.2 330.8 L1822.9 328.0 L1823.9 338.5 L1824.6 329.5 L1825.3 340.1 L1826.1 333.1 L1826.8 347.5 L1827.5 334.6 L1828.4 330.8 L1829.4 328.7 L1830.2 332.2 L1831.2 328.0 L1832.2 337.0 L1833.2 329.2 L1833.8 350.0 L1834.7 328.7 L1835.8 350.1 L1836.5 328.4 L1837.4 332.8 L1838.4 330.9 L1839.3 341.6 L1840.3 334.1 L1841.2 342.3 L1842.0 329.2 L1842.6 349.3 L1843.3 331.0 L1844.1 343.3 L1845.0 335.0 L1845.8 337.7 L1846.7 334.1 L1847.8 337.0 L1848.8 336.8 L1849.9 334.1 L1850.7 335.0 L1851.7 333.3 L1852.5 334.7 L1853.5 342.5 L1854.2 332.3 L1854.8 338.0 L1855.6 336.1 L1856.5 340.3 L1857.3 332.1 L1858.2 341.2 L1858.9 336.5 L1859.8 354.7 L1860.6 334.7 L1861.4 345.1 L1862.5 338.3 L1863.4 341.1 L1864.1 336.9 L1864.9 340.1 L1865.5 331.3 L1866.3 355.2 L1867.3 335.8 L1868.2 338.1 L1868.9 334.9 L1869.5 345.0 L1870.4 334.4 L1871.0 335.0 L1871.8 331.9 L1872.8 339.0 L1873.7 336.4 L1874.6 343.9 L1875.3 333.2 L1876.4 338.4 L1877.1 334.3 L1878.0 350.6 L1878.7 338.8 L1879.3 350.7 L1880.2 338.2 L1880.9 348.1 L1882.0 336.0 L1882.6 354.5 L1883.7 332.3 L1884.7 335.8 L1885.4 337.5 L1886.3 355.9 L1887.2 409.3 L1887.3 335.1 L1888.0 345.7 L1889.1 336.4 L1890.1 338.1 L1891.1 337.4 L1891.7 352.6 L1892.4 333.6 L1893.0 348.5 L1893.7 340.2 L1894.3 352.5 L1895.3 336.4 L1896.2 352.4 L1897.1 333.7 L1898.1 341.9 L1899.0 336.3 L1900.0 343.3 L1901.1 333.9 L1901.8 349.6 L1902.7 339.6 L1903.4 353.4 L1904.4 334.5 L1905.1 347.8 L1906.2 337.9 L1907.0 346.1 L1908.0 337.3 L1908.9 348.3 L1910.0 340.0 L1911.0 341.4 L1911.9 340.4 L1912.8 358.2 L1913.9 335.4 L1914.8 343.5 L1915.5 337.8 L1916.6 353.3 L1917.2 336.3 L1918.0 356.6 L1918.8 336.0 L1919.5 362.0 L1919.7 341.8 L1920.3 339.0 L1921.4 353.9 L1922.4 336.3 L1923.3 350.5 L1924.2 338.2 L1924.9 358.2 L1925.6 340.8 L1926.4 354.3 L1927.2 336.6 L1928.0 347.2 L1929.0 338.4 L1929.9 345.1 L1930.9 337.3 L1932.0 359.1 L1932.6 342.6 L1933.6 352.6 L1934.2 341.6 L1935.2 351.1 L1936.3 343.9 L1937.2 359.0 L1937.9 338.6 L1938.7 349.1 L1939.8 341.3 L1940.7 351.5 L1941.8 339.7 L1942.8 351.2 L1943.0 385.0 L1943.6 339.5 L1944.2 341.1 L1944.5 389.4 L1945.0 339.5 L1945.6 348.9 L1946.4 344.7 L1946.5 386.0 L1947.4 353.2 L1948.4 339.7 L1948.5 372.0 L1949.1 352.0 L1949.8 345.6 L1950.6 359.0 L1951.3 339.2 L1952.3 354.2 L1953.0 345.4 L1954.1 354.3 L1955.2 346.1 L1955.8 355.4 L1956.8 343.8 L1957.6 350.9 L1958.5 344.6 L1959.1 347.2 L1959.8 343.9 L1960.5 342.2 L1961.2 339.2 L1961.9 374.4 L1962.0 357.7 L1962.8 338.9 L1963.7 345.6 L1964.6 342.7 L1965.4 353.7 L1966.3 343.4 L1967.3 357.4 L1968.3 338.9 L1969.1 353.9 L1970.1 341.7 L1971.1 354.7 L1972.0 340.7 L1972.6 346.8 L1973.0 368.0 L1973.6 342.7 L1974.6 345.7 L1975.3 342.2 L1976.3 341.3 L1976.9 341.9 L1977.8 340.0 L1978.9 339.2 L1979.9 352.5 L1980.6 338.5 L1981.3 348.0 L1982.1 340.5 L1982.7 340.9 L1983.5 336.5 L1984.3 356.3 L1985.4 337.3 L1986.4 341.9 L1986.5 363.0 L1987.1 340.4 L1987.8 341.9 L1988.5 338.0 L1989.2 355.8 L1989.8 340.3 L1990.5 351.8 L1991.1 339.5 L1992.1 340.9 L1992.9 339.7 L1993.7 350.5 L1994.3 343.7 L1995.1 353.7 L1995.7 339.4 L1996.4 342.3 L1997.2 339.9 L1997.8 355.8 L1998.7 341.9 L1999.5 355.2 L2000.1 340.3 L2001.1 342.8 L2001.9 343.5 L2002.9 343.2 L2003.7 342.0 L2004.6 343.5 L2005.6 346.3 L2006.5 352.9 L2007.5 345.4 L2008.5 349.6 L2009.2 345.1 L2010.2 353.5 L2010.9 346.5 L2011.9 346.8 L2012.9 341.8 L2013.6 357.6 L2014.2 345.7 L2015.0 351.0 L2015.9 345.9 L2016.7 344.1 L2017.5 341.8 L2018.3 344.3 L2019.0 343.6 L2019.6 346.1 L2020.4 341.5 L2021.4 357.3 L2022.0 345.2 L2022.7 353.8 L2023.3 344.8 L2024.4 346.1 L2025.1 342.5 L2026.1 354.7 L2026.8 346.0 L2027.7 358.2 L2028.8 341.8 L2029.8 343.7 L2030.5 343.6 L2031.2 345.6 L2032.0 343.2 L2033.0 351.0 L2033.9 344.7 L2034.6 355.0 L2035.6 345.4 L2036.4 350.3 L2037.0 343.2 L2038.0 357.7 L2039.0 342.7 L2040.0 355.8 L2041.1 344.5 L2041.9 356.1 L2042.5 343.9 L2043.3 356.2 L2044.2 342.2 L2044.9 343.9 L2045.9 345.2 L2046.6 345.7 L2047.5 342.2 L2048.4 347.2 L2049.1 344.7 L2049.9 347.1 L2050.7 346.4 L2051.4 346.8 L2052.1 342.8 L2053.0 354.8 L2053.7 344.9 L2054.5 350.6 L2055.3 344.2 L2056.0 351.3 L2056.8 345.3 L2057.7 348.1" fill="none" stroke="#9bc285" stroke-opacity="0.72" stroke-width="1.6" stroke-linejoin="round"/>
<path d="M1241.96 330.66l15.28 15.28M1241.96 345.94l15.28 -15.28" stroke="#008000" stroke-width="3.33" fill="none"/>
<path d="M1234.32 319.5h30.56M1234.32 356.5h30.56" stroke="#008000" stroke-width="3.33" fill="none"/>
<path d="M1249.5 319.7V356.0" stroke="#008000" stroke-width="3.33" fill="none"/>
<path d="M1297.76 361.06l15.28 15.28M1297.76 376.34l15.28 -15.28" stroke="#008000" stroke-width="3.33" fill="none"/>
<path d="M1290.12 356.5h30.56M1290.12 381.5h30.56" stroke="#008000" stroke-width="3.33" fill="none"/>
<path d="M1305.5 356.0V381.4" stroke="#008000" stroke-width="3.33" fill="none"/>
<path d="M1333.36 373.46l15.28 15.28M1333.36 388.74l15.28 -15.28" stroke="#008000" stroke-width="3.33" fill="none"/>
<path d="M1325.72 367.5h30.56M1325.72 394.5h30.56" stroke="#008000" stroke-width="3.33" fill="none"/>
<path d="M1341.5 367.5V394.8" stroke="#008000" stroke-width="3.33" fill="none"/>
<path d="M1402.06 419.56l15.28 15.28M1402.06 434.84l15.28 -15.28" stroke="#008000" stroke-width="3.33" fill="none"/>
<path d="M1394.42 416.5h30.56M1394.42 437.5h30.56" stroke="#008000" stroke-width="3.33" fill="none"/>
<path d="M1409.5 416.7V437.9" stroke="#008000" stroke-width="3.33" fill="none"/>
<path d="M1447.56 443.26l15.28 15.28M1447.56 458.54l15.28 -15.28" stroke="#008000" stroke-width="3.33" fill="none"/>
<path d="M1439.92 440.5h30.56M1439.92 461.5h30.56" stroke="#008000" stroke-width="3.33" fill="none"/>
<path d="M1455.5 440.4V461.0" stroke="#008000" stroke-width="3.33" fill="none"/>
<path d="M1566.36 432.96l15.28 15.28M1566.36 448.24l15.28 -15.28" stroke="#008000" stroke-width="3.33" fill="none"/>
<path d="M1558.72 430.5h30.56M1558.72 450.5h30.56" stroke="#008000" stroke-width="3.33" fill="none"/>
<path d="M1574.5 430.4V450.9" stroke="#008000" stroke-width="3.33" fill="none"/>
<path d="M1689.86 396.36l15.28 15.28M1689.86 411.64l15.28 -15.28" stroke="#008000" stroke-width="3.33" fill="none"/>
<path d="M1682.22 396.5h30.56M1682.22 411.5h30.56" stroke="#008000" stroke-width="3.33" fill="none"/>
<path d="M1697.5 396.8V411.3" stroke="#008000" stroke-width="3.33" fill="none"/>
<path d="M1763.56 344.36l15.28 15.28M1763.56 359.64l15.28 -15.28" stroke="#008000" stroke-width="3.33" fill="none"/>
<path d="M1755.92 345.5h30.56M1755.92 359.5h30.56" stroke="#008000" stroke-width="3.33" fill="none"/>
<path d="M1771.5 345.0V359.2" stroke="#008000" stroke-width="3.33" fill="none"/>
<path d="M1864.86 333.16l15.28 15.28M1864.86 348.44l15.28 -15.28" stroke="#008000" stroke-width="3.33" fill="none"/>
<path d="M1857.22 332.5h30.56M1857.22 348.5h30.56" stroke="#008000" stroke-width="3.33" fill="none"/>
<path d="M1872.5 332.9V348.8" stroke="#008000" stroke-width="3.33" fill="none"/>
<path d="M1119.7 794.4 L1120.9 724.7 L1123.0 726.0 L1125.0 722.0 L1125.9 723.5 L1128.4 742.0 L1130.9 732.0 L1133.0 745.0 L1135.9 752.0 L1138.4 784.5 L1140.8 762.0 L1142.5 766.0 L1144.6 772.0 L1148.3 774.5 L1150.8 789.4 L1154.0 793.2 L1157.8 752.0 L1160.8 774.5 L1163.2 744.6 L1165.2 779.5 L1165.7 685.0 L1167.7 707.3 L1169.5 690.0 L1170.7 672.4 L1173.2 671.6 L1175.5 650.0 L1178.2 616.8 L1180.5 630.0 L1183.2 661.6 L1185.5 625.0 L1188.1 604.4 L1190.0 620.0 L1191.9 654.2 L1193.5 585.6 L1195.4 570.7 L1198.2 574.4 L1201.0 598.6 L1202.8 559.5 L1204.7 568.8 L1206.6 503.5 L1208.5 518.0 L1210.3 512.8 L1212.2 538.9 L1214.0 509.0 L1215.9 524.0 L1217.8 496.0 L1219.6 529.6 L1222.4 485.7 L1224.3 527.7 L1227.1 487.6 L1229.0 492.3 L1230.8 540.8 L1232.7 548.2 L1233.6 515.6 L1234.6 589.3 L1237.4 611.7 L1239.2 552.0 L1241.1 514.7 L1243.5 477.3 L1244.8 486.7 L1247.6 538.9 L1249.5 477.3 L1250.4 594.9 L1252.3 533.3 L1254.2 473.6 L1257.0 492.3 L1258.5 455.0 L1259.5 440.0 L1260.5 470.0 L1262.0 400.0 L1263.3 357.0 L1264.0 480.0 L1264.7 380.0 L1265.5 430.0 L1266.5 384.0 L1267.5 410.0 L1268.5 386.0 L1269.5 420.0 L1270.5 480.0 L1271.5 418.0 L1271.9 440.0 L1273.0 470.0 L1273.8 496.0 L1274.5 416.0 L1276.0 480.0 L1277.5 417.0 L1278.4 605.2 L1280.2 381.0 L1281.0 440.0 L1281.8 383.0 L1282.7 430.0 L1283.5 390.0 L1284.3 480.0 L1285.0 470.8 L1285.7 376.0 L1286.9 354.5 L1287.5 366.0 L1289.4 340.0 L1290.4 311.6 L1293.7 336.5 L1297.9 326.5 L1302.8 316.6 L1307.0 303.3 L1310.3 293.3 L1312.8 296.6 L1315.3 293.3 L1317.8 306.6 L1319.5 295.0 L1321.9 314.9 L1323.5 293.3 L1326.3 257.4 L1329.5 262.0 L1332.5 250.0 L1333.0 251.7 L1333.9 277.9 L1334.5 245.9 L1335.2 260.8 L1335.9 307.8 L1336.2 253.1 L1337.0 272.9 L1337.9 243.8 L1338.7 254.5 L1339.7 241.7 L1340.6 249.8 L1341.5 243.2 L1342.3 288.7 L1342.9 239.6 L1343.7 306.0 L1343.9 270.7 L1344.5 256.8 L1345.5 250.4 L1346.2 239.2 L1346.9 277.9 L1347.6 249.0 L1348.2 252.9 L1349.1 242.3 L1349.9 277.1 L1350.7 241.7 L1351.2 285.8 L1352.3 256.2 L1353.1 263.0 L1353.9 247.8 L1354.8 248.9 L1355.4 239.6 L1356.2 292.9 L1357.0 234.1 L1358.0 266.9 L1358.0 307.8 L1358.8 235.3 L1359.6 263.9 L1360.5 232.8 L1361.3 243.5 L1362.2 217.4 L1362.9 244.3 L1363.8 214.5 L1364.6 235.2 L1365.3 221.6 L1366.3 254.0 L1367.3 214.5 L1368.3 245.4 L1368.9 228.4 L1369.9 222.1 L1370.6 228.8 L1371.4 236.3 L1371.9 212.7 L1372.8 302.1 L1373.2 309.0 L1373.8 229.0 L1374.4 253.7 L1375.3 238.8 L1376.2 239.9 L1377.0 219.6 L1377.9 235.2 L1378.9 227.7 L1379.5 234.4 L1380.5 205.7 L1381.5 251.0 L1382.4 221.4 L1383.1 239.3 L1383.2 307.8 L1383.8 227.1 L1384.6 233.9 L1385.6 218.9 L1386.3 254.5 L1387.3 218.6 L1388.2 295.9 L1389.2 220.9 L1390.0 258.9 L1391.0 216.3 L1391.8 231.9 L1392.5 212.2 L1393.4 205.9 L1393.6 389.0 L1394.3 219.2 L1395.2 285.5 L1396.2 204.5 L1397.1 386.0 L1397.2 234.9 L1397.8 198.6 L1399.0 161.7 L1399.7 182.3 L1400.4 156.4 L1400.9 161.4 L1401.4 159.2 L1401.9 170.1 L1402.4 151.3 L1402.9 177.4 L1403.6 146.6 L1404.1 154.5 L1404.8 155.6 L1405.5 177.6 L1406.2 159.0 L1406.9 160.3 L1407.7 154.3 L1408.3 171.2 L1408.9 153.5 L1409.5 162.9 L1410.0 158.6 L1410.1 219.5 L1410.7 185.0 L1411.3 154.6 L1412.0 156.9 L1412.7 152.8 L1413.2 158.2 L1413.8 150.6 L1414.4 169.9 L1414.9 149.3 L1415.5 158.1 L1416.0 149.3 L1416.6 153.6 L1417.2 157.2 L1417.8 171.5 L1418.6 146.3 L1419.0 173.2 L1419.7 150.3 L1420.2 159.1 L1421.0 152.4 L1421.7 151.7 L1422.4 144.8 L1422.5 200.4 L1423.1 148.6 L1423.8 145.7 L1424.5 148.9 L1425.2 144.1 L1425.8 151.6 L1426.5 140.3 L1427.0 145.1 L1427.7 137.5 L1428.2 141.7 L1428.8 140.0 L1429.4 139.8 L1430.0 136.7 L1430.5 138.2 L1431.1 206.2 L1431.3 134.0 L1431.8 142.5 L1432.4 132.6 L1433.0 143.8 L1433.7 131.1 L1434.1 203.0 L1434.3 145.9 L1435.0 133.2 L1435.6 149.3 L1436.2 128.7 L1436.8 155.2 L1437.4 128.4 L1438.1 151.5 L1438.6 129.9 L1438.8 188.8 L1439.2 133.6 L1439.7 125.5 L1440.2 128.1 L1440.8 123.7 L1441.5 139.8 L1441.9 128.1 L1442.4 135.5 L1443.0 122.6 L1443.5 132.8 L1444.0 126.6 L1444.5 142.1 L1445.0 120.2 L1445.5 121.9 L1446.0 119.5 L1446.6 140.9 L1447.4 116.2 L1448.0 120.8 L1448.7 116.2 L1449.4 128.5 L1449.9 113.3 L1450.4 135.7 L1450.9 115.1 L1451.4 122.5 L1452.1 114.0 L1452.8 130.9 L1453.5 114.3 L1454.2 130.2 L1454.9 115.1 L1455.4 132.4 L1456.1 115.3 L1456.8 124.0 L1457.5 114.3 L1458.0 137.0 L1458.5 115.0 L1459.2 129.6 L1459.7 117.2 L1460.4 119.3 L1461.0 114.3 L1461.6 118.0 L1462.0 121.3 L1462.6 139.2 L1463.2 117.1 L1463.9 130.2 L1464.4 116.6 L1465.0 118.4 L1465.5 119.0 L1466.1 118.3 L1466.7 113.1 L1467.3 141.5 L1467.4 124.3 L1467.8 117.5 L1468.3 119.0 L1468.7 116.3 L1469.2 124.1 L1469.6 113.6 L1470.3 123.8 L1470.9 113.1 L1471.5 124.8 L1471.9 112.6 L1472.4 131.6 L1473.2 109.6 L1473.7 126.6 L1474.3 109.0 L1475.0 132.7 L1475.5 110.0 L1476.2 132.0 L1476.7 109.2 L1477.2 123.1 L1477.7 108.5 L1478.3 110.6 L1478.8 114.5 L1479.5 114.1 L1480.2 108.2 L1480.7 109.9 L1481.2 107.3 L1481.7 128.4 L1482.2 107.5 L1482.9 129.6 L1483.4 113.2 L1483.9 124.8 L1484.6 121.7 L1485.3 130.9 L1486.0 120.0 L1486.5 140.8 L1486.7 177.1 L1487.2 119.8 L1487.7 135.8 L1488.3 111.8 L1489.1 119.9 L1489.6 107.8 L1490.1 112.5 L1490.8 107.3 L1491.3 117.8 L1491.9 108.9 L1492.6 114.2 L1493.0 141.5 L1493.1 109.6 L1493.6 113.8 L1494.1 112.4 L1494.6 124.0 L1495.1 111.9 L1495.7 116.9 L1496.5 112.3 L1497.1 111.8 L1497.7 109.5 L1498.2 131.8 L1499.0 108.8 L1499.6 132.0 L1500.3 109.1 L1501.0 119.3 L1501.8 115.3 L1502.5 132.4 L1502.9 114.7 L1503.5 114.1 L1504.0 112.9 L1504.4 120.4 L1504.5 143.0 L1505.1 112.3 L1505.7 117.3 L1506.5 111.0 L1507.2 126.0 L1507.6 118.4 L1508.1 135.9 L1508.9 118.4 L1509.6 122.1 L1510.2 114.6 L1510.9 116.9 L1511.4 121.0 L1512.1 131.4 L1512.9 118.1 L1513.6 126.4 L1514.3 116.7 L1514.9 130.5 L1515.6 119.6 L1516.3 141.7 L1516.9 119.2 L1517.3 139.4 L1517.5 160.0 L1517.9 121.0 L1518.5 123.9 L1518.8 173.0 L1519.0 120.8 L1519.5 140.7 L1520.0 120.8 L1520.1 158.0 L1520.7 134.0 L1521.2 125.4 L1521.8 135.6 L1522.5 121.4 L1523.0 135.8 L1523.7 121.7 L1524.2 125.4 L1524.8 117.2 L1525.5 125.2 L1526.2 114.7 L1526.8 132.0 L1527.3 112.8 L1527.9 116.1 L1528.7 112.2 L1529.4 122.6 L1529.9 112.8 L1530.6 120.6 L1531.2 110.6 L1532.0 113.4 L1532.7 107.8 L1533.3 110.8 L1533.5 145.5 L1533.8 110.1 L1534.5 113.6 L1535.1 108.2 L1535.7 113.4 L1536.2 110.5 L1536.9 113.3 L1537.6 112.6 L1538.2 108.8 L1538.5 150.0 L1538.7 112.1 L1539.2 111.7 L1539.9 107.1 L1540.6 112.9 L1541.0 137.0 L1541.2 110.6 L1541.6 125.1 L1542.2 112.7 L1542.9 111.8 L1543.6 113.4 L1544.1 121.2 L1544.6 111.0 L1545.3 116.6 L1545.9 108.5 L1546.6 121.8 L1547.4 108.3 L1548.1 111.7 L1548.7 108.9 L1549.4 111.9 L1550.0 110.3 L1550.6 111.3 L1551.2 114.5 L1551.8 127.8 L1552.3 109.0 L1552.9 129.6 L1553.6 111.3 L1554.0 117.6 L1554.5 108.1 L1555.0 113.7 L1555.5 110.4 L1555.5 140.0 L1556.2 128.1 L1556.9 109.7 L1557.4 128.9 L1558.0 109.2 L1558.7 119.4 L1559.5 111.6 L1560.2 112.1 L1561.0 110.4 L1561.7 114.3 L1562.2 108.8 L1562.6 128.2 L1563.1 108.5 L1563.8 112.6 L1564.2 108.5 L1564.8 110.3 L1565.4 111.0 L1566.0 126.4 L1566.6 108.3 L1567.4 112.9 L1568.1 112.2 L1568.5 125.0 L1569.1 109.8 L1569.8 116.6 L1570.3 107.6 L1571.1 116.5 L1571.7 110.6 L1572.5 126.6 L1573.3 109.6 L1574.0 113.7 L1574.5 110.5 L1574.9 127.2 L1575.5 109.0 L1576.0 113.9 L1576.6 111.7 L1577.0 114.2 L1577.5 113.0 L1578.1 115.9 L1578.9 108.7 L1579.4 115.0 L1579.9 110.8 L1580.4 116.9 L1581.1 111.2 L1581.8 116.3 L1582.5 112.6 L1583.3 120.7 L1583.9 108.4 L1584.6 116.0 L1585.3 108.5 L1585.8 109.5 L1586.5 107.9 L1587.1 120.7 L1587.8 112.5 L1588.5 112.2 L1589.2 107.5 L1589.8 125.1 L1589.9 162.1 L1590.5 110.2 L1591.3 111.8 L1591.7 108.7 L1592.5 110.4 L1593.0 110.0 L1593.5 124.3 L1593.5 113.4 L1593.9 121.5 L1594.4 113.6 L1594.8 124.5 L1595.5 112.7 L1596.3 113.1 L1596.8 111.7 L1597.3 113.5 L1597.8 112.8 L1598.6 122.9 L1599.1 113.5 L1599.7 113.2 L1600.3 110.1 L1600.7 118.6 L1601.3 111.1 L1602.0 120.1 L1602.6 113.2 L1603.4 117.4 L1604.1 109.0 L1604.6 112.8 L1605.3 112.4 L1606.0 114.8 L1606.6 114.2 L1607.1 113.0 L1607.5 111.7 L1608.2 119.7 L1608.8 112.3 L1609.3 127.3 L1609.8 111.4 L1610.4 125.2 L1610.9 115.7 L1611.4 118.8 L1611.9 116.0 L1612.6 119.6 L1613.1 113.7 L1613.6 126.3 L1614.4 115.6 L1614.9 114.8 L1615.6 117.5 L1616.1 121.1 L1616.7 118.4 L1617.1 116.9 L1617.9 118.4 L1618.1 137.2 L1618.4 130.4 L1619.1 122.0 L1619.6 122.5 L1620.0 120.3 L1620.7 124.8 L1621.2 120.3 L1621.9 126.5 L1622.4 120.1 L1623.1 130.1 L1623.9 115.1 L1624.5 121.0 L1625.1 117.3 L1625.6 120.0 L1626.3 116.8 L1627.1 126.8 L1627.6 117.1 L1628.3 127.4 L1628.8 116.7 L1629.3 130.4 L1630.0 117.1 L1630.7 126.0 L1631.2 121.4 L1631.7 120.1 L1632.2 120.6 L1632.9 125.1 L1633.6 119.1 L1634.3 119.7 L1635.0 117.9 L1635.7 130.3 L1636.3 119.4 L1636.9 128.5 L1637.5 117.6 L1638.1 124.6 L1638.6 118.6 L1639.2 119.7 L1639.8 119.7 L1640.4 129.4 L1641.2 118.7 L1641.7 120.4 L1642.2 116.6 L1643.0 118.0 L1643.7 118.3 L1644.4 117.9 L1645.1 115.7 L1645.7 126.7 L1646.4 116.8 L1647.2 118.9 L1647.6 118.9 L1648.1 121.4 L1648.6 119.3 L1649.2 123.8 L1649.8 117.4 L1650.4 122.7 L1651.0 117.6 L1651.3 141.3 L1651.6 129.8 L1652.4 117.3 L1653.1 118.8 L1653.7 120.8 L1654.1 126.5 L1654.9 119.6 L1655.5 119.6 L1656.1 119.2 L1656.8 123.6 L1657.5 119.7 L1658.0 176.2 L1658.2 129.4 L1658.6 123.2 L1659.2 126.1 L1660.0 121.9 L1660.6 123.8 L1661.1 123.5 L1661.7 129.9 L1662.4 123.7 L1662.9 133.3 L1663.5 122.1 L1664.2 134.3 L1664.7 125.7 L1665.3 126.3 L1666.0 126.3 L1666.4 131.5 L1667.0 123.3 L1667.7 136.9 L1668.4 126.5 L1668.9 129.4 L1669.6 127.1 L1670.2 130.4 L1670.9 125.6 L1671.6 136.2 L1672.3 125.9 L1672.9 138.3 L1673.4 127.7 L1673.9 128.2 L1674.4 128.1 L1674.9 134.3 L1675.3 128.3 L1676.0 129.5 L1676.5 126.5 L1677.1 128.8 L1677.6 128.8 L1678.4 128.6 L1679.0 128.1 L1679.7 132.8 L1680.3 128.6 L1681.0 134.7 L1681.7 128.8 L1682.1 135.4 L1682.6 126.8 L1683.2 132.3 L1683.8 127.7 L1684.3 130.4 L1685.0 129.4 L1685.6 127.5 L1686.3 129.1 L1687.0 133.5 L1687.6 126.1 L1688.3 131.2 L1688.8 127.8 L1689.2 130.6 L1689.9 128.6 L1690.4 128.8 L1691.0 128.7 L1691.4 128.3 L1692.0 129.4 L1692.7 137.6 L1693.1 127.3 L1693.6 132.7 L1694.3 127.2 L1695.0 133.8 L1695.6 126.9 L1696.1 134.3 L1696.9 129.4 L1697.6 135.9 L1698.3 127.3 L1698.7 135.3 L1699.2 129.2 L1700.0 129.6 L1700.7 128.6 L1701.4 128.4 L1701.9 126.7 L1702.7 129.7 L1703.3 129.1 L1703.8 134.1 L1704.5 127.8 L1705.2 134.8 L1705.9 129.5 L1706.6 129.9 L1707.3 130.8 L1707.8 131.9 L1708.3 127.9 L1708.9 132.8 L1709.4 129.2 L1710.0 130.8 L1710.7 131.2 L1711.4 142.0 L1712.1 131.8 L1712.6 135.5 L1713.1 134.9 L1713.6 139.0 L1714.3 134.6 L1715.1 141.9 L1715.7 135.3 L1716.2 143.5 L1716.8 137.9 L1717.5 144.7 L1718.3 138.5 L1718.7 141.6 L1719.4 139.4 L1719.9 141.1 L1720.7 140.1 L1721.0 147.0 L1721.1 143.4 L1721.6 140.9 L1722.2 142.6 L1722.9 137.0 L1723.6 143.3 L1724.3 135.4 L1725.1 146.2 L1725.7 134.9 L1726.3 141.9 L1726.9 134.9 L1727.6 141.1 L1728.2 135.8 L1728.9 133.7 L1729.5 132.5 L1730.0 135.8 L1730.7 132.8 L1731.2 132.5 L1731.7 131.3 L1732.3 135.7 L1732.9 131.2 L1733.4 140.7 L1733.9 130.1 L1734.6 138.7 L1735.2 130.6 L1735.7 130.0 L1736.4 128.3 L1737.1 129.4 L1737.7 129.0 L1738.4 136.5 L1738.9 127.1 L1739.6 135.2 L1740.4 126.6 L1741.0 133.2 L1741.8 128.9 L1742.5 135.7 L1742.9 129.4 L1743.6 136.1 L1744.0 127.0 L1744.8 136.8 L1745.4 128.4 L1745.8 127.3 L1746.4 128.2 L1747.0 129.9 L1747.8 126.3 L1748.3 135.8 L1748.9 128.3 L1749.6 130.2 L1750.4 124.6 L1750.8 127.4 L1751.6 124.1 L1752.3 129.7 L1752.7 123.9 L1753.4 127.7 L1754.1 123.1 L1754.8 132.5 L1755.3 123.1 L1755.9 124.9 L1756.6 125.3 L1757.1 125.0 L1757.8 123.2 L1758.6 128.4 L1759.3 125.0 L1760.0 132.0 L1760.7 125.3 L1761.3 128.6 L1762.0 126.8 L1762.5 128.7 L1763.0 127.1 L1763.5 133.2 L1764.2 130.5 L1764.8 139.3 L1765.3 130.3 L1765.9 136.7 L1766.5 132.6 L1767.0 134.1 L1767.6 133.0 L1768.1 138.8 L1768.5 134.0 L1769.1 139.9 L1769.2 153.0 L1769.6 135.3 L1770.2 144.2 L1770.6 134.7 L1771.3 144.8 L1772.1 137.3 L1772.6 137.5 L1773.1 136.6 L1773.8 139.7 L1774.3 137.7 L1774.8 137.8 L1775.6 137.2 L1776.2 143.6 L1776.9 136.4 L1777.4 137.1 L1778.2 134.7 L1778.9 138.2 L1779.6 137.4 L1780.3 135.9 L1781.0 134.7 L1781.5 145.5 L1782.2 134.5 L1783.0 137.3 L1783.6 136.6 L1784.1 136.6 L1784.5 134.2 L1785.3 135.5 L1785.8 136.8 L1786.2 139.2 L1786.9 137.3 L1787.7 136.1 L1788.1 136.7 L1788.7 140.0 L1789.3 137.2 L1789.9 145.7 L1790.4 137.8 L1790.8 136.9 L1791.5 138.5 L1792.1 138.7 L1792.9 141.1 L1793.6 146.7 L1794.1 140.6 L1794.5 143.0 L1795.1 143.7 L1795.8 152.9 L1796.3 142.6 L1797.0 152.5 L1797.6 142.4 L1798.3 144.4 L1798.9 142.3 L1799.5 148.1 L1800.0 140.4 L1800.6 142.5 L1801.0 138.9 L1801.6 144.7 L1802.4 137.7 L1803.0 139.7 L1803.5 137.2 L1804.1 145.6 L1804.6 139.1 L1805.3 139.9 L1806.0 135.5 L1806.4 139.7 L1807.1 136.2 L1807.5 135.4 L1808.2 136.6 L1808.8 142.2 L1809.3 134.3 L1809.9 145.3 L1810.3 136.2 L1811.0 136.7 L1811.7 136.1 L1812.4 142.7 L1812.9 136.9 L1813.4 138.5 L1814.1 137.8 L1814.6 139.5 L1815.2 137.7 L1815.9 139.2 L1816.4 137.0 L1816.9 138.6 L1817.4 139.6 L1818.1 137.9 L1818.9 136.8 L1819.5 141.7 L1820.0 136.8 L1820.5 141.9 L1821.1 136.7 L1821.7 137.8 L1822.4 137.3 L1822.9 140.6 L1823.5 136.8 L1824.0 140.8 L1824.6 138.8 L1825.4 143.7 L1825.9 136.6 L1826.4 141.6 L1827.2 137.5 L1827.9 143.3 L1828.6 136.0 L1829.1 139.0 L1829.7 135.9 L1830.3 136.5 L1831.1 136.5 L1831.6 145.3 L1832.2 138.8 L1832.7 142.5 L1833.1 138.4 L1833.8 140.8 L1834.4 140.3 L1835.0 141.1 L1835.7 141.9 L1836.4 150.6 L1837.2 140.5 L1837.9 148.3 L1838.5 142.6 L1838.9 147.7 L1839.6 140.2 L1840.1 147.0 L1840.5 140.4 L1841.3 147.7 L1841.8 140.8 L1842.3 147.7 L1843.0 141.4 L1843.5 149.9 L1844.0 141.7 L1844.8 149.4 L1845.2 141.1 L1845.9 144.6 L1846.4 140.2 L1846.9 147.1 L1847.5 143.1 L1848.1 147.9 L1848.8 141.9 L1849.4 145.3 L1849.8 142.2 L1850.5 145.9 L1851.1 145.2 L1851.5 146.6 L1852.0 144.0 L1852.4 151.2 L1852.9 145.7 L1853.1 187.1 L1853.4 153.7 L1853.9 146.8 L1854.4 149.5 L1855.0 145.0 L1855.6 152.0 L1856.2 147.4 L1856.8 146.9 L1857.5 148.9 L1857.6 224.4 L1858.0 148.0 L1858.6 147.6 L1859.2 148.4 L1859.8 146.8 L1860.4 157.0 L1861.0 149.9 L1861.7 149.3 L1862.3 146.9 L1862.8 153.1 L1863.2 149.3 L1863.9 158.7 L1864.6 150.2 L1865.1 159.4 L1865.6 151.0 L1866.4 156.9 L1867.1 148.8 L1867.8 151.6 L1868.3 149.0 L1869.0 158.0 L1869.6 149.5 L1869.7 219.5 L1870.1 159.2 L1870.7 150.4 L1871.5 156.6 L1871.9 153.9 L1872.4 155.9 L1873.2 154.2 L1873.7 161.7 L1874.2 150.9 L1874.7 153.2 L1875.3 151.1 L1876.0 155.1 L1876.5 151.7 L1876.9 151.8 L1877.7 150.2 L1878.1 153.4 L1878.6 151.0 L1879.2 154.5 L1879.9 149.8 L1880.3 153.3 L1881.0 152.3 L1881.8 155.7 L1882.2 150.9 L1882.8 161.4 L1883.5 151.5 L1884.1 159.3 L1884.5 166.0 L1884.7 153.7 L1885.3 159.8 L1886.1 153.9 L1886.6 163.0 L1887.2 154.0 L1887.9 161.5 L1888.6 153.3 L1889.4 158.2 L1889.9 152.9 L1890.6 162.1 L1891.2 152.8 L1891.9 158.3 L1892.4 156.4 L1893.1 161.8 L1893.8 154.9 L1894.4 155.7 L1895.0 151.9 L1895.6 168.8 L1896.3 153.9 L1896.8 164.6 L1897.5 152.8 L1898.2 157.5 L1898.9 151.6 L1899.5 168.9 L1900.1 154.8 L1900.6 164.5 L1901.2 156.0 L1901.7 163.9 L1902.3 154.3 L1902.8 170.7 L1902.9 178.0 L1903.4 151.5 L1904.2 163.7 L1904.7 151.0 L1905.3 154.8 L1905.8 148.4 L1906.2 163.7 L1906.8 149.0 L1907.3 169.6 L1908.1 147.1 L1908.7 168.7 L1909.5 149.0 L1910.2 153.3 L1910.8 149.4 L1911.5 156.9 L1912.3 150.7 L1912.8 156.6 L1913.4 152.0 L1913.9 158.2 L1914.3 156.1 L1915.0 174.7 L1915.6 153.1 L1916.3 159.7 L1916.7 153.1 L1917.4 157.7 L1917.9 152.6 L1918.6 159.3 L1919.2 151.7 L1919.6 171.4 L1920.4 155.8 L1920.5 176.0 L1921.0 158.0 L1921.7 153.4 L1922.2 166.0 L1922.9 154.0 L1923.4 172.7 L1924.2 153.7 L1924.7 155.7 L1925.5 151.0 L1925.9 156.8 L1926.6 155.2 L1927.4 170.9 L1928.1 153.2 L1928.8 162.7 L1929.5 150.9 L1930.0 167.3 L1930.6 155.9 L1931.2 163.3 L1931.6 152.3 L1932.1 153.6 L1932.6 155.4 L1933.3 155.3 L1934.0 155.4 L1934.1 173.0 L1934.6 156.3 L1935.4 157.6 L1935.3 155.6 L1937.5 157.5 L1939.5 157.2 L1941.5 158.5 L1943.5 156.8 L1946.1 156.4 L1948.5 158.0 L1951.1 154.7 L1953.5 157.0 L1955.5 158.0 L1959.3 159.7 L1962.7 156.4 L1965.5 158.5 L1968.5 157.5 L1972.6 158.1 L1975.5 160.0 L1979.3 161.4 L1981.5 160.5 L1984.3 162.6 L1985.8 159.5 L1989.5 160.7 L1993.5 162.0 L1995.5 163.2 L1998.0 162.0 L2001.5 162.0 L2007.5 163.5 L2012.3 165.3 L2017.1 164.2 L2022.0 166.3 L2026.5 166.2 L2031.5 165.2 L2037.5 167.5 L2042.5 168.5 L2046.5 168.5 L2051.5 170.3 L2058.0 172.2" fill="none" stroke="#c4694d" stroke-opacity="0.85" stroke-width="1.6" stroke-linejoin="round"/>
<path d="M1241.96 472.26l15.28 15.28M1241.96 487.54l15.28 -15.28" stroke="#ff0000" stroke-width="3.33" fill="none"/>
<path d="M1234.32 438.5h30.56M1234.32 522.5h30.56" stroke="#ff0000" stroke-width="3.33" fill="none"/>
<path d="M1249.5 438.2V522.2" stroke="#ff0000" stroke-width="3.33" fill="none"/>
<path d="M1297.76 303.76l15.28 15.28M1297.76 319.04l15.28 -15.28" stroke="#ff0000" stroke-width="3.33" fill="none"/>
<path d="M1290.12 301.5h30.56M1290.12 321.5h30.56" stroke="#ff0000" stroke-width="3.33" fill="none"/>
<path d="M1305.5 301.0V321.7" stroke="#ff0000" stroke-width="3.33" fill="none"/>
<path d="M1333.36 257.46l15.28 15.28M1333.36 272.74l15.28 -15.28" stroke="#ff0000" stroke-width="3.33" fill="none"/>
<path d="M1325.72 256.5h30.56M1325.72 274.5h30.56" stroke="#ff0000" stroke-width="3.33" fill="none"/>
<path d="M1341.5 256.2V274.1" stroke="#ff0000" stroke-width="3.33" fill="none"/>
<path d="M1402.06 171.16l15.28 15.28M1402.06 186.44l15.28 -15.28" stroke="#ff0000" stroke-width="3.33" fill="none"/>
<path d="M1394.42 171.5h30.56M1394.42 186.5h30.56" stroke="#ff0000" stroke-width="3.33" fill="none"/>
<path d="M1409.5 171.9V186.0" stroke="#ff0000" stroke-width="3.33" fill="none"/>
<path d="M1447.56 124.86l15.28 15.28M1447.56 140.14l15.28 -15.28" stroke="#ff0000" stroke-width="3.33" fill="none"/>
<path d="M1439.92 125.5h30.56M1439.92 139.5h30.56" stroke="#ff0000" stroke-width="3.33" fill="none"/>
<path d="M1455.5 125.6V139.5" stroke="#ff0000" stroke-width="3.33" fill="none"/>
<path d="M1566.36 108.96l15.28 15.28M1566.36 124.24l15.28 -15.28" stroke="#ff0000" stroke-width="3.33" fill="none"/>
<path d="M1558.72 109.5h30.56M1558.72 123.5h30.56" stroke="#ff0000" stroke-width="3.33" fill="none"/>
<path d="M1574.5 109.6V123.3" stroke="#ff0000" stroke-width="3.33" fill="none"/>
<path d="M1689.86 122.86l15.28 15.28M1689.86 138.14l15.28 -15.28" stroke="#ff0000" stroke-width="3.33" fill="none"/>
<path d="M1682.22 123.5h30.56M1682.22 137.5h30.56" stroke="#ff0000" stroke-width="3.33" fill="none"/>
<path d="M1697.5 123.3V137.5" stroke="#ff0000" stroke-width="3.33" fill="none"/>
<path d="M1763.56 126.66l15.28 15.28M1763.56 141.94l15.28 -15.28" stroke="#ff0000" stroke-width="3.33" fill="none"/>
<path d="M1755.92 127.5h30.56M1755.92 141.5h30.56" stroke="#ff0000" stroke-width="3.33" fill="none"/>
<path d="M1771.5 127.0V141.2" stroke="#ff0000" stroke-width="3.33" fill="none"/>
<path d="M1864.86 143.36l15.28 15.28M1864.86 158.64l15.28 -15.28" stroke="#ff0000" stroke-width="3.33" fill="none"/>
<path d="M1857.22 143.5h30.56M1857.22 158.5h30.56" stroke="#ff0000" stroke-width="3.33" fill="none"/>
<path d="M1872.5 143.7V158.2" stroke="#ff0000" stroke-width="3.33" fill="none"/>
<path d="M1216.0 856.0 L1220.2 856.0 L1225.0 760.0 L1229.0 680.0 L1231.4 649.2 L1239.4 643.0 L1250.6 629.3 L1259.3 611.9 L1269.3 605.6 L1269.8 660.0 L1275.0 856.0" fill="none" stroke="rgb(65,65,65)" stroke-opacity="0.5" stroke-width="4.7" stroke-dasharray="17.30 7.20 17.30 7.20 17.30 7.20 17.30 7.20 17.30 7.20 17.30 7.20 17.30 7.20 17.30 7.20 17.30 7.20 17.30 7.20 17.30 7.20 17.06 7.10 17.05 7.10 17.05 7.10 17.05 7.10 17.05 7.10 17.05 7.10 17.05 7.10 17.05 7.10 17.05 7.10 17.05 7.10 17.05 7.10 17.05 7.10" stroke-linejoin="round"/>
<path d="M1273.0 856.0 L1277.2 856.0 L1281.2 660.0 L1283.7 464.0 L1289.0 466.0 L1311.6 481.2 L1324.0 494.9 L1325.5 510.0 L1327.8 572.0 L1330.3 660.0 L1335.3 856.0" fill="none" stroke="rgb(175,175,175)" stroke-opacity="0.5" stroke-width="4.7" stroke-dasharray="17.30 7.20 17.30 7.20 17.30 7.20 17.30 7.20 17.30 7.20 17.30 7.20 17.30 7.20 17.30 7.20 17.30 7.20 17.30 7.20 17.30 7.20 17.30 7.20 17.30 7.20 17.30 7.20 17.30 7.20 17.30 7.20 17.30 7.20 17.30 7.20 17.12 7.08 17.01 7.08 17.01 7.08 17.01 7.08 17.01 7.08 17.01 7.08 17.01 7.08 17.01 7.08 17.01 7.08 17.01 7.08 17.01 7.08 17.01 7.08 17.01 7.08 17.01 7.08 17.01 7.08 17.01 7.08 17.01 7.08" stroke-linejoin="round"/>
<path d="M1310.0 856.0 L1314.1 856.0 L1318.6 660.0 L1320.4 552.9 L1336.0 567.5 L1360.2 534.3 L1360.4 545.0 L1363.1 660.0 L1368.1 856.0" fill="none" stroke="rgb(137,55,151)" stroke-opacity="0.5" stroke-width="4.7" stroke-dasharray="17.30 7.20 17.30 7.20 17.30 7.20 17.30 7.20 17.30 7.20 17.30 7.20 17.30 7.20 17.30 7.20 17.30 7.20 17.30 7.20 17.30 7.20 17.30 7.20 17.30 7.20 17.30 7.20 17.30 7.20 17.05 7.08 17.01 7.08 17.01 7.08 17.01 7.08 17.01 7.08 17.01 7.08 17.01 7.08 17.01 7.08 17.01 7.08 17.01 7.08 17.01 7.08 17.01 7.08 17.01 7.08 17.01 7.08 17.01 7.08" stroke-linejoin="round"/>
<path d="M1378.0 856.0 L1381.8 856.0 L1385.0 660.0 L1388.3 480.0 L1390.0 309.7 L1392.0 301.0 L1395.3 293.6 L1399.5 282.5 L1404.1 271.5 L1409.5 260.0 L1414.9 249.9 L1420.0 240.5 L1425.6 230.5 L1428.1 226.3 L1428.3 240.0 L1431.1 480.0 L1433.6 660.0 L1436.6 856.0" fill="none" stroke="rgb(101,113,197)" stroke-opacity="0.5" stroke-width="4.7" stroke-dasharray="17.30 7.20 17.30 7.20 17.30 7.20 17.30 7.20 17.30 7.20 17.30 7.20 17.30 7.20 17.30 7.20 17.30 7.20 17.30 7.20 17.30 7.20 17.30 7.20 17.30 7.20 17.30 7.20 17.30 7.20 17.30 7.20 17.30 7.20 17.30 7.20 17.30 7.20 17.30 7.20 17.30 7.20 17.30 7.20 17.30 7.20 17.30 7.20 17.30 7.20 17.30 7.20 17.10 7.08 17.02 7.08 17.02 7.08 17.02 7.08 17.02 7.08 17.02 7.08 17.02 7.08 17.02 7.08 17.02 7.08 17.02 7.08 17.02 7.08 17.02 7.08 17.02 7.08 17.02 7.08 17.02 7.08 17.02 7.08 17.02 7.08 17.02 7.08 17.02 7.08 17.02 7.08 17.02 7.08 17.02 7.08 17.02 7.08 17.02 7.08 17.02 7.08 17.02 7.08 17.02 7.08 17.02 7.08" stroke-linejoin="round"/>
<path d="M1423.0 856.0 L1427.4 856.0 L1430.6 660.0 L1433.6 480.0 L1436.4 213.0 L1438.0 208.5 L1440.6 204.8 L1446.0 199.0 L1451.4 194.0 L1457.2 187.3 L1464.0 181.5 L1470.5 176.2 L1473.0 180.0 L1473.4 186.0 L1474.2 240.0 L1477.2 480.0 L1480.1 660.0 L1483.4 856.0" fill="none" stroke="rgb(71,151,175)" stroke-opacity="0.5" stroke-width="4.7" stroke-dasharray="17.30 7.20 17.30 7.20 17.30 7.20 17.30 7.20 17.30 7.20 17.30 7.20 17.30 7.20 17.30 7.20 17.30 7.20 17.30 7.20 17.30 7.20 17.30 7.20 17.30 7.20 17.30 7.20 17.30 7.20 17.30 7.20 17.30 7.20 17.30 7.20 17.30 7.20 17.30 7.20 17.30 7.20 17.30 7.20 17.30 7.20 17.30 7.20 17.30 7.20 17.30 7.20 17.30 7.20 17.30 7.20 17.31 7.31 17.57 7.31 17.57 7.31 17.57 7.31 17.57 7.31 17.57 7.31 17.57 7.31 17.57 7.31 17.57 7.31 17.57 7.31 17.57 7.31 17.57 7.31 17.57 7.31 17.57 7.31 17.57 7.31 17.57 7.31 17.57 7.31 17.57 7.31 17.57 7.31 17.57 7.31 17.57 7.31 17.57 7.31 17.57 7.31 17.57 7.31 17.57 7.31 17.57 7.31 17.57 7.31 17.57 7.31 17.57 7.31 17.57 7.31" stroke-linejoin="round"/>
<path d="M1547.0 856.0 L1551.1 856.0 L1553.6 660.0 L1556.3 480.0 L1559.3 240.0 L1560.5 166.9 L1573.0 171.9 L1586.7 179.3 L1588.4 190.0 L1589.2 240.0 L1591.7 480.0 L1594.7 660.0 L1597.1 856.0" fill="none" stroke="rgb(71,143,61)" stroke-opacity="0.5" stroke-width="4.7" stroke-dasharray="17.30 7.20 17.30 7.20 17.30 7.20 17.30 7.20 17.30 7.20 17.30 7.20 17.30 7.20 17.30 7.20 17.30 7.20 17.30 7.20 17.30 7.20 17.30 7.20 17.30 7.20 17.30 7.20 17.30 7.20 17.30 7.20 17.30 7.20 17.30 7.20 17.30 7.20 17.30 7.20 17.30 7.20 17.30 7.20 17.30 7.20 17.30 7.20 17.30 7.20 17.30 7.20 17.30 7.20 17.30 7.20 17.30 7.20 17.40 7.33 17.60 7.33 17.60 7.33 17.60 7.33 17.60 7.33 17.60 7.33 17.60 7.33 17.60 7.33 17.60 7.33 17.60 7.33 17.60 7.33 17.60 7.33 17.60 7.33 17.60 7.33 17.60 7.33 17.60 7.33 17.60 7.33 17.60 7.33 17.60 7.33 17.60 7.33 17.60 7.33 17.60 7.33 17.60 7.33 17.60 7.33 17.60 7.33 17.60 7.33 17.60 7.33 17.60 7.33 17.60 7.33" stroke-linejoin="round"/>
<path d="M1652.0 856.0 L1655.9 856.0 L1659.2 660.0 L1662.2 480.0 L1665.9 240.0 L1665.9 189.3 L1672.0 183.0 L1694.5 178.1 L1719.4 185.5 L1728.9 194.3 L1728.9 240.0 L1732.4 480.0 L1736.3 660.0 L1739.3 856.0" fill="none" stroke="rgb(239,217,57)" stroke-opacity="0.5" stroke-width="4.7" stroke-dasharray="17.30 7.20 17.30 7.20 17.30 7.20 17.30 7.20 17.30 7.20 17.30 7.20 17.30 7.20 17.30 7.20 17.30 7.20 17.30 7.20 17.30 7.20 17.30 7.20 17.30 7.20 17.30 7.20 17.30 7.20 17.30 7.20 17.30 7.20 17.30 7.20 17.30 7.20 17.30 7.20 17.30 7.20 17.30 7.20 17.30 7.20 17.30 7.20 17.30 7.20 17.30 7.20 17.30 7.20 17.30 7.20 17.30 7.20 17.30 7.20 17.47 7.31 17.57 7.31 17.57 7.31 17.57 7.31 17.57 7.31 17.57 7.31 17.57 7.31 17.57 7.31 17.57 7.31 17.57 7.31 17.57 7.31 17.57 7.31 17.57 7.31 17.57 7.31 17.57 7.31 17.57 7.31 17.57 7.31 17.57 7.31 17.57 7.31 17.57 7.31 17.57 7.31 17.57 7.31 17.57 7.31 17.57 7.31 17.57 7.31 17.57 7.31 17.57 7.31 17.57 7.31 17.57 7.31" stroke-linejoin="round"/>
<path d="M1721.0 856.0 L1725.6 856.0 L1729.4 660.0 L1734.3 480.0 L1739.3 240.0 L1740.6 201.7 L1754.3 216.7 L1766.7 239.1 L1779.2 264.9 L1791.6 292.3 L1801.6 317.2 L1805.3 329.6 L1806.5 364.5 L1809.5 480.0 L1815.3 660.0 L1821.5 856.0" fill="none" stroke="rgb(215,147,33)" stroke-opacity="0.5" stroke-width="4.7" stroke-dasharray="17.30 7.20 17.30 7.20 17.30 7.20 17.30 7.20 17.30 7.20 17.30 7.20 17.30 7.20 17.30 7.20 17.30 7.20 17.30 7.20 17.30 7.20 17.30 7.20 17.30 7.20 17.30 7.20 17.30 7.20 17.30 7.20 17.30 7.20 17.30 7.20 17.30 7.20 17.30 7.20 17.30 7.20 17.30 7.20 17.30 7.20 17.30 7.20 17.30 7.20 17.30 7.20 17.30 7.20 17.30 7.20 17.30 7.20 17.30 7.20 17.30 7.20 17.30 7.20 17.30 7.09 16.93 7.05 16.93 7.05 16.93 7.05 16.93 7.05 16.93 7.05 16.93 7.05 16.93 7.05 16.93 7.05 16.93 7.05 16.93 7.05 16.93 7.05 16.93 7.05 16.93 7.05 16.93 7.05 16.93 7.05 16.93 7.05 16.93 7.05 16.93 7.05 16.93 7.05 16.93 7.05 16.93 7.05 16.93 7.05 16.93 7.05 16.93 7.05" stroke-linejoin="round"/>
<path d="M1840.0 856.0 L1843.9 856.0 L1848.9 660.0 L1853.8 512.3 L1866.3 567.0 L1878.7 614.3 L1891.2 661.6 L1898.6 694.9 L1902.4 734.7 L1906.1 809.4 L1908.6 856.0" fill="none" stroke="rgb(193,73,21)" stroke-opacity="0.5" stroke-width="4.7" stroke-dasharray="17.30 7.20 17.30 7.20 17.30 7.20 17.30 7.20 17.30 7.20 17.30 7.20 17.30 7.20 17.30 7.20 17.30 7.20 17.30 7.20 17.30 7.20 17.30 7.20 17.30 7.20 17.30 7.20 17.13 7.10 17.07 7.10 17.07 7.10 17.07 7.10 17.07 7.10 17.07 7.10 17.07 7.10 17.07 7.10 17.07 7.10 17.07 7.10 17.07 7.10 17.07 7.10 17.07 7.10 17.07 7.10 17.07 7.10 17.07 7.10" stroke-linejoin="round"/>
</g>
<path d="M205.6 73.8H278.4" stroke="#000" stroke-width="5.3" stroke-linecap="square" fill="none"/>
<path d="M205.2 127.6H279.1" stroke="#000" stroke-width="4.7" stroke-dasharray="17.3 7.2" fill="none"/>
<path d="M234.66 173.76l15.28 15.28M234.66 189.04l15.28 -15.28" stroke="#000" stroke-width="3.33" fill="none"/>
<path d="M227.02 163.5h30.56M227.02 199.5h30.56" stroke="#000" stroke-width="3.33" fill="none"/>
<path d="M242.5 163.1V199.6" stroke="#000" stroke-width="3.33" fill="none"/>
<rect x="172.8" y="25.9" width="943.5" height="829.7" fill="none" stroke="#000" stroke-width="2.78" stroke-linejoin="miter"/>
<rect x="1116.3" y="25.9" width="943.3999999999999" height="829.7" fill="none" stroke="#000" stroke-width="2.78" stroke-linejoin="miter"/>
<path d="M236.92 855.6v11.1 M420.13 855.6v11.1 M603.33 855.6v11.1 M786.53 855.6v11.1 M969.74 855.6v11.1 M1180.42 855.6v11.1 M1363.63 855.6v11.1 M1546.83 855.6v11.1 M1730.03 855.6v11.1 M1913.24 855.6v11.1 M172.8 25.90h-11.1 M1105.2 25.90h22.2 M2059.7 25.90h11.1 M172.8 191.84h-11.1 M1105.2 191.84h22.2 M2059.7 191.84h11.1 M172.8 357.78h-11.1 M1105.2 357.78h22.2 M2059.7 357.78h11.1 M172.8 523.72h-11.1 M1105.2 523.72h22.2 M2059.7 523.72h11.1 M172.8 689.66h-11.1 M1105.2 689.66h22.2 M2059.7 689.66h11.1 M172.8 855.60h-11.1 M1105.2 855.60h22.2 M2059.7 855.60h11.1" stroke="#000" stroke-width="2.78" fill="none"/>
<text transform="translate(236.92,900.30) scale(1,1.04)" font-size="30.56" text-anchor="middle">2000</text>
<text transform="translate(420.13,900.30) scale(1,1.04)" font-size="30.56" text-anchor="middle">4000</text>
<text transform="translate(603.33,900.30) scale(1,1.04)" font-size="30.56" text-anchor="middle">6000</text>
<text transform="translate(786.53,900.30) scale(1,1.04)" font-size="30.56" text-anchor="middle">8000</text>
<text transform="translate(969.74,900.30) scale(1,1.04)" font-size="30.56" text-anchor="middle">10000</text>
<text transform="translate(1180.42,900.30) scale(1,1.04)" font-size="30.56" text-anchor="middle">2000</text>
<text transform="translate(1363.63,900.30) scale(1,1.04)" font-size="30.56" text-anchor="middle">4000</text>
<text transform="translate(1546.83,900.30) scale(1,1.04)" font-size="30.56" text-anchor="middle">6000</text>
<text transform="translate(1730.03,900.30) scale(1,1.04)" font-size="30.56" text-anchor="middle">8000</text>
<text transform="translate(1913.24,900.30) scale(1,1.04)" font-size="30.56" text-anchor="middle">10000</text>
<text transform="translate(151.80,37.80) scale(1,1.04)" font-size="30.56" text-anchor="end">−16.5</text>
<text transform="translate(151.80,203.74) scale(1,1.04)" font-size="30.56" text-anchor="end">−17.0</text>
<text transform="translate(151.80,369.68) scale(1,1.04)" font-size="30.56" text-anchor="end">−17.5</text>
<text transform="translate(151.80,535.62) scale(1,1.04)" font-size="30.56" text-anchor="end">−18.0</text>
<text transform="translate(151.80,701.56) scale(1,1.04)" font-size="30.56" text-anchor="end">−18.5</text>
<text transform="translate(151.80,867.50) scale(1,1.04)" font-size="30.56" text-anchor="end">−19.0</text>
<text transform="translate(2080.70,867.50) scale(1,1.04)" font-size="30.56" text-anchor="start">0.0</text>
<text transform="translate(2080.70,701.56) scale(1,1.04)" font-size="30.56" text-anchor="start">0.2</text>
<text transform="translate(2080.70,535.62) scale(1,1.04)" font-size="30.56" text-anchor="start">0.4</text>
<text transform="translate(2080.70,369.68) scale(1,1.04)" font-size="30.56" text-anchor="start">0.6</text>
<text transform="translate(2080.70,203.74) scale(1,1.04)" font-size="30.56" text-anchor="start">0.8</text>
<text transform="translate(2080.70,37.80) scale(1,1.04)" font-size="30.56" text-anchor="start">1.0</text>
<text transform="translate(307.90,86.90) scale(1,1.04)" font-size="36.1" text-anchor="start" >SED</text>
<text transform="translate(307.90,140.60) scale(1,1.04)" font-size="36.1" text-anchor="start" letter-spacing="0.6">Filter</text>
<text transform="translate(307.90,194.00) scale(1,1.04)" font-size="36.1" text-anchor="start" >Data</text>
<text transform="translate(969.00,124.60) scale(1,1.04)" font-size="52" text-anchor="start" font-style="italic">SC</text>
<text transform="translate(1913.00,124.60) scale(1,1.04)" font-size="52" text-anchor="start" font-style="italic">MCI</text>
<text transform="translate(1913.10,217.90) scale(1,1.03)" font-size="36.1" text-anchor="start" font-style="italic">z</text>
<text transform="translate(1939.50,217.90) scale(1,1.03)" font-size="36.1" text-anchor="start" >=</text>
<text transform="translate(1978.20,217.90) scale(1,1.03)" font-size="36.1" text-anchor="start" >0.1</text>
<text transform="translate(1913.10,437.40) scale(1,1.03)" font-size="36.1" text-anchor="start" font-style="italic">z</text>
<text transform="translate(1939.50,437.40) scale(1,1.03)" font-size="36.1" text-anchor="start" >=</text>
<text transform="translate(1978.20,437.40) scale(1,1.03)" font-size="36.1" text-anchor="start" >1.0</text>
<text transform="translate(1913.10,725.20) scale(1,1.03)" font-size="36.1" text-anchor="start" font-style="italic">z</text>
<text transform="translate(1939.50,725.20) scale(1,1.03)" font-size="36.1" text-anchor="start" >=</text>
<text transform="translate(1978.20,725.20) scale(1,1.03)" font-size="36.1" text-anchor="start" >2.0</text>
<text transform="translate(643.40,951.00) scale(1,1.03)" font-size="36.5" text-anchor="middle" ><tspan font-style="italic">λ</tspan> [<tspan font-style="italic">Å</tspan>]</text>
<text transform="translate(1587.00,951.00) scale(1,1.03)" font-size="36.5" text-anchor="middle" ><tspan font-style="italic">λ</tspan> [<tspan font-style="italic">Å</tspan>]</text>
<text transform="translate(34.0,442.8) rotate(-90)" font-size="36.8" text-anchor="middle" style="font-variant-ligatures:none"><tspan font-style="italic">log</tspan><tspan font-size="25.8" dy="6">10</tspan><tspan dy="-6">(</tspan><tspan font-style="italic">flux</tspan>) [<tspan font-style="italic">erg</tspan>/<tspan font-style="italic">s</tspan>/<tspan font-style="italic">cm</tspan><tspan font-size="25.8" dy="-13">2</tspan><tspan dy="13">/</tspan><tspan font-style="italic">Å</tspan>]</text>
<text transform="translate(2168.4,437.8) rotate(-90)" font-size="36.1" text-anchor="middle" letter-spacing="0.8">Transmission</text>
</svg></body></html>
